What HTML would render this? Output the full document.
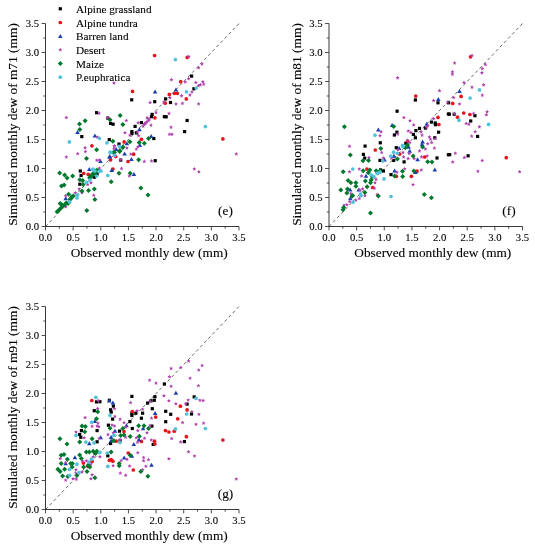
<!DOCTYPE html>
<html><head><meta charset="utf-8"><title>Dew scatter</title>
<style>
html,body{margin:0;padding:0;background:#fff}
svg text{font-family:"Liberation Serif","Times New Roman",serif;fill:#000;stroke:#000;stroke-width:0.1px}
.t{font-size:10.7px}
.l{font-size:13.3px}
.lv{font-size:13.4px}
.lg{font-size:11.2px}
</style></head><body>
<svg width="535" height="550" viewBox="0 0 535 550" style="display:block">
<rect width="535" height="550" fill="#fff"/>
<g><line x1="45.5" y1="226.5" x2="239.0" y2="23.5" stroke="#686868" stroke-width="1" stroke-dasharray="3.1 2.8"/><rect x="78.7" y="169.4" width="3.2" height="3.2" fill="#000000"/><rect x="79.5" y="173.9" width="3.2" height="3.2" fill="#000000"/><rect x="78.2" y="182.6" width="3.2" height="3.2" fill="#000000"/><rect x="92.7" y="175.6" width="3.2" height="3.2" fill="#000000"/><rect x="95.5" y="172.3" width="3.2" height="3.2" fill="#000000"/><rect x="164.6" y="115.2" width="3.2" height="3.2" fill="#000000"/><rect x="185.5" y="118.9" width="3.2" height="3.2" fill="#000000"/><rect x="183.0" y="130.0" width="3.2" height="3.2" fill="#000000"/><rect x="106.2" y="116.5" width="3.2" height="3.2" fill="#000000"/><rect x="109.0" y="121.8" width="3.2" height="3.2" fill="#000000"/><rect x="111.5" y="122.6" width="3.2" height="3.2" fill="#000000"/><rect x="133.5" y="124.8" width="3.2" height="3.2" fill="#000000"/><rect x="130.3" y="130.0" width="3.2" height="3.2" fill="#000000"/><rect x="130.3" y="131.9" width="3.2" height="3.2" fill="#000000"/><rect x="134.8" y="131.3" width="3.2" height="3.2" fill="#000000"/><rect x="139.8" y="121.0" width="3.2" height="3.2" fill="#000000"/><rect x="107.7" y="138.0" width="3.2" height="3.2" fill="#000000"/><rect x="117.4" y="142.5" width="3.2" height="3.2" fill="#000000"/><rect x="152.2" y="136.9" width="3.2" height="3.2" fill="#000000"/><rect x="150.5" y="112.8" width="3.2" height="3.2" fill="#000000"/><rect x="149.9" y="115.1" width="3.2" height="3.2" fill="#000000"/><rect x="119.1" y="158.5" width="3.2" height="3.2" fill="#000000"/><rect x="153.6" y="159.1" width="3.2" height="3.2" fill="#000000"/><rect x="162.8" y="115.1" width="3.2" height="3.2" fill="#000000"/><rect x="95.0" y="111.1" width="3.2" height="3.2" fill="#000000"/><rect x="80.2" y="135.0" width="3.2" height="3.2" fill="#000000"/><rect x="130.1" y="98.2" width="3.2" height="3.2" fill="#000000"/><rect x="153.1" y="100.1" width="3.2" height="3.2" fill="#000000"/><rect x="190.0" y="74.5" width="3.2" height="3.2" fill="#000000"/><rect x="192.3" y="87.2" width="3.2" height="3.2" fill="#000000"/><rect x="164.0" y="97.3" width="3.2" height="3.2" fill="#000000"/><rect x="168.9" y="100.9" width="3.2" height="3.2" fill="#000000"/><rect x="93.0" y="171.7" width="3.2" height="3.2" fill="#000000"/><circle cx="83.7" cy="173.3" r="1.85" fill="#e8141c"/><circle cx="88.2" cy="174.4" r="1.85" fill="#e8141c"/><circle cx="112.9" cy="169.1" r="1.85" fill="#e8141c"/><circle cx="222.9" cy="138.9" r="1.85" fill="#e8141c"/><circle cx="154.9" cy="117.8" r="1.85" fill="#e8141c"/><circle cx="141.4" cy="139.4" r="1.85" fill="#e8141c"/><circle cx="124.1" cy="141.9" r="1.85" fill="#e8141c"/><circle cx="133.6" cy="154.2" r="1.85" fill="#e8141c"/><circle cx="128.0" cy="161.5" r="1.85" fill="#e8141c"/><circle cx="110.6" cy="159.8" r="1.85" fill="#e8141c"/><circle cx="115.7" cy="156.5" r="1.85" fill="#e8141c"/><circle cx="91.9" cy="145.8" r="1.85" fill="#e8141c"/><circle cx="154.6" cy="55.5" r="1.85" fill="#e8141c"/><circle cx="132.5" cy="91.4" r="1.85" fill="#e8141c"/><circle cx="187.2" cy="57.4" r="1.85" fill="#e8141c"/><circle cx="180.7" cy="81.7" r="1.85" fill="#e8141c"/><circle cx="174.5" cy="93.3" r="1.85" fill="#e8141c"/><circle cx="177.3" cy="93.3" r="1.85" fill="#e8141c"/><circle cx="169.3" cy="94.4" r="1.85" fill="#e8141c"/><circle cx="186.3" cy="98.9" r="1.85" fill="#e8141c"/><circle cx="165.2" cy="103.2" r="1.85" fill="#e8141c"/><path d="M89.3 167.1L91.6 171.1L87.0 171.1Z" fill="#1a3fb0"/><path d="M65.7 196.2L68.0 200.2L63.4 200.2Z" fill="#1a3fb0"/><path d="M111.7 168.0L114.0 172.0L109.4 172.0Z" fill="#1a3fb0"/><path d="M133.9 172.1L136.2 176.1L131.6 176.1Z" fill="#1a3fb0"/><path d="M139.5 127.3L141.8 131.3L137.2 131.3Z" fill="#1a3fb0"/><path d="M151.2 134.0L153.5 138.0L148.9 138.0Z" fill="#1a3fb0"/><path d="M126.9 141.3L129.2 145.3L124.6 145.3Z" fill="#1a3fb0"/><path d="M139.8 143.0L142.1 147.0L137.5 147.0Z" fill="#1a3fb0"/><path d="M124.6 151.4L126.9 155.4L122.3 155.4Z" fill="#1a3fb0"/><path d="M131.4 157.0L133.7 161.0L129.1 161.0Z" fill="#1a3fb0"/><path d="M109.5 154.7L111.8 158.7L107.2 158.7Z" fill="#1a3fb0"/><path d="M116.2 146.9L118.5 150.9L113.9 150.9Z" fill="#1a3fb0"/><path d="M77.5 130.1L79.8 134.1L75.2 134.1Z" fill="#1a3fb0"/><path d="M94.9 133.4L97.2 137.4L92.6 137.4Z" fill="#1a3fb0"/><path d="M100.5 158.9L102.8 162.9L98.2 162.9Z" fill="#1a3fb0"/><path d="M155.1 89.5L157.4 93.5L152.8 93.5Z" fill="#1a3fb0"/><path d="M175.9 87.6L178.2 91.6L173.6 91.6Z" fill="#1a3fb0"/><path d="M109.8 154.1L112.1 158.1L107.5 158.1Z" fill="#1a3fb0"/><path d="M99.4 166.0L100.0 167.4L101.4 167.5L100.3 168.5L100.7 169.9L99.4 169.1L98.1 169.9L98.5 168.5L97.4 167.5L98.8 167.4Z" fill="#b040b0"/><path d="M87.6 182.3L88.2 183.7L89.6 183.8L88.5 184.8L88.9 186.2L87.6 185.4L86.3 186.2L86.7 184.8L85.6 183.8L87.0 183.7Z" fill="#b040b0"/><path d="M91.0 180.7L91.6 182.0L93.0 182.1L91.9 183.1L92.3 184.5L91.0 183.8L89.7 184.5L90.1 183.1L89.0 182.1L90.4 182.0Z" fill="#b040b0"/><path d="M79.2 186.8L79.8 188.2L81.2 188.3L80.1 189.3L80.5 190.7L79.2 189.9L77.9 190.7L78.3 189.3L77.2 188.3L78.6 188.2Z" fill="#b040b0"/><path d="M75.3 190.8L75.9 192.1L77.3 192.2L76.2 193.2L76.6 194.6L75.3 193.8L74.0 194.6L74.4 193.2L73.3 192.2L74.7 192.1Z" fill="#b040b0"/><path d="M82.0 190.8L82.6 192.1L84.0 192.2L82.9 193.2L83.3 194.6L82.0 193.8L80.7 194.6L81.1 193.2L80.0 192.2L81.4 192.1Z" fill="#b040b0"/><path d="M93.8 193.2L94.4 194.6L95.8 194.7L94.7 195.7L95.1 197.1L93.8 196.3L92.5 197.1L92.9 195.7L91.8 194.7L93.2 194.6Z" fill="#b040b0"/><path d="M65.7 193.5L66.3 194.9L67.7 195.0L66.6 196.0L67.0 197.4L65.7 196.6L64.4 197.4L64.8 196.0L63.7 195.0L65.1 194.9Z" fill="#b040b0"/><path d="M65.7 204.8L66.3 206.1L67.7 206.2L66.6 207.2L67.0 208.6L65.7 207.8L64.4 208.6L64.8 207.2L63.7 206.2L65.1 206.1Z" fill="#b040b0"/><path d="M121.5 166.3L122.1 167.7L123.5 167.8L122.4 168.8L122.8 170.2L121.5 169.4L120.2 170.2L120.6 168.8L119.5 167.8L120.9 167.7Z" fill="#b040b0"/><path d="M129.4 173.9L130.0 175.3L131.4 175.4L130.3 176.4L130.7 177.8L129.4 177.0L128.1 177.8L128.5 176.4L127.4 175.4L128.8 175.3Z" fill="#b040b0"/><path d="M169.0 111.3L169.6 112.7L171.0 112.8L169.9 113.8L170.3 115.2L169.0 114.5L167.7 115.2L168.1 113.8L167.0 112.8L168.4 112.7Z" fill="#b040b0"/><path d="M171.0 125.0L171.6 126.4L173.0 126.5L171.9 127.5L172.3 128.9L171.0 128.2L169.7 128.9L170.1 127.5L169.0 126.5L170.4 126.4Z" fill="#b040b0"/><path d="M169.5 132.2L170.1 133.6L171.5 133.7L170.4 134.7L170.8 136.1L169.5 135.3L168.2 136.1L168.6 134.7L167.5 133.7L168.9 133.6Z" fill="#b040b0"/><path d="M172.0 132.2L172.6 133.6L174.0 133.7L172.9 134.7L173.3 136.1L172.0 135.3L170.7 136.1L171.1 134.7L170.0 133.7L171.4 133.6Z" fill="#b040b0"/><path d="M236.3 151.8L236.9 153.2L238.3 153.3L237.2 154.3L237.6 155.7L236.3 154.9L235.0 155.7L235.4 154.3L234.3 153.3L235.7 153.2Z" fill="#b040b0"/><path d="M194.3 166.8L194.9 168.2L196.3 168.3L195.2 169.3L195.6 170.7L194.3 169.9L193.0 170.7L193.4 169.3L192.3 168.3L193.7 168.2Z" fill="#b040b0"/><path d="M198.9 169.7L199.5 171.0L200.9 171.1L199.8 172.1L200.2 173.5L198.9 172.8L197.6 173.5L198.0 172.1L196.9 171.1L198.3 171.0Z" fill="#b040b0"/><path d="M126.3 118.4L126.9 119.8L128.3 119.9L127.2 120.9L127.6 122.3L126.3 121.5L125.0 122.3L125.4 120.9L124.3 119.9L125.7 119.8Z" fill="#b040b0"/><path d="M125.0 130.8L125.6 132.1L127.0 132.2L125.9 133.2L126.3 134.6L125.0 133.8L123.7 134.6L124.1 133.2L123.0 132.2L124.4 132.1Z" fill="#b040b0"/><path d="M138.1 120.6L138.7 122.0L140.1 122.1L139.0 123.1L139.4 124.5L138.1 123.8L136.8 124.5L137.2 123.1L136.1 122.1L137.5 122.0Z" fill="#b040b0"/><path d="M147.1 115.6L147.7 117.0L149.1 117.1L148.0 118.1L148.4 119.5L147.1 118.8L145.8 119.5L146.2 118.1L145.1 117.1L146.5 117.0Z" fill="#b040b0"/><path d="M156.0 110.3L156.6 111.7L158.0 111.8L156.9 112.8L157.3 114.2L156.0 113.5L154.7 114.2L155.1 112.8L154.0 111.8L155.4 111.7Z" fill="#b040b0"/><path d="M151.0 123.1L151.6 124.5L153.0 124.6L151.9 125.6L152.3 127.0L151.0 126.2L149.7 127.0L150.1 125.6L149.0 124.6L150.4 124.5Z" fill="#b040b0"/><path d="M148.2 118.9L148.8 120.3L150.2 120.4L149.1 121.4L149.5 122.8L148.2 122.0L146.9 122.8L147.3 121.4L146.2 120.4L147.6 120.3Z" fill="#b040b0"/><path d="M145.4 121.2L146.0 122.6L147.4 122.7L146.3 123.7L146.7 125.1L145.4 124.4L144.1 125.1L144.5 123.7L143.4 122.7L144.8 122.6Z" fill="#b040b0"/><path d="M143.1 124.0L143.7 125.4L145.1 125.5L144.0 126.5L144.4 127.9L143.1 127.2L141.8 127.9L142.2 126.5L141.1 125.5L142.5 125.4Z" fill="#b040b0"/><path d="M137.5 130.2L138.1 131.6L139.5 131.7L138.4 132.7L138.8 134.1L137.5 133.3L136.2 134.1L136.6 132.7L135.5 131.7L136.9 131.6Z" fill="#b040b0"/><path d="M138.6 133.5L139.2 134.9L140.6 135.0L139.5 136.0L139.9 137.4L138.6 136.6L137.3 137.4L137.7 136.0L136.6 135.0L138.0 134.9Z" fill="#b040b0"/><path d="M129.9 133.2L130.5 134.6L131.9 134.7L130.8 135.7L131.2 137.1L129.9 136.3L128.6 137.1L129.0 135.7L127.9 134.7L129.3 134.6Z" fill="#b040b0"/><path d="M114.5 143.7L115.1 145.0L116.5 145.1L115.4 146.1L115.8 147.5L114.5 146.8L113.2 147.5L113.6 146.1L112.5 145.1L113.9 145.0Z" fill="#b040b0"/><path d="M126.9 145.9L127.5 147.3L128.9 147.4L127.8 148.4L128.2 149.8L126.9 149.0L125.6 149.8L126.0 148.4L124.9 147.4L126.3 147.3Z" fill="#b040b0"/><path d="M136.4 147.0L137.0 148.4L138.4 148.5L137.3 149.5L137.7 150.9L136.4 150.1L135.1 150.9L135.5 149.5L134.4 148.5L135.8 148.4Z" fill="#b040b0"/><path d="M138.1 144.8L138.7 146.1L140.1 146.2L139.0 147.2L139.4 148.6L138.1 147.8L136.8 148.6L137.2 147.2L136.1 146.2L137.5 146.1Z" fill="#b040b0"/><path d="M130.8 152.0L131.4 153.4L132.8 153.5L131.7 154.5L132.1 155.9L130.8 155.1L129.5 155.9L129.9 154.5L128.8 153.5L130.2 153.4Z" fill="#b040b0"/><path d="M144.3 159.3L144.9 160.7L146.3 160.8L145.2 161.8L145.6 163.2L144.3 162.4L143.0 163.2L143.4 161.8L142.3 160.8L143.7 160.7Z" fill="#b040b0"/><path d="M151.5 158.8L152.1 160.2L153.5 160.3L152.4 161.3L152.8 162.7L151.5 161.9L150.2 162.7L150.6 161.3L149.5 160.3L150.9 160.2Z" fill="#b040b0"/><path d="M114.0 146.4L114.6 147.8L116.0 147.9L114.9 148.9L115.3 150.3L114.0 149.5L112.7 150.3L113.1 148.9L112.0 147.9L113.4 147.8Z" fill="#b040b0"/><path d="M99.1 111.1L99.7 112.5L101.1 112.6L100.0 113.6L100.4 115.0L99.1 114.2L97.8 115.0L98.2 113.6L97.1 112.6L98.5 112.5Z" fill="#b040b0"/><path d="M66.3 115.4L66.9 116.8L68.3 116.9L67.2 117.9L67.6 119.3L66.3 118.5L65.0 119.3L65.4 117.9L64.3 116.9L65.7 116.8Z" fill="#b040b0"/><path d="M97.5 135.0L98.1 136.4L99.5 136.5L98.4 137.5L98.8 138.9L97.5 138.1L96.2 138.9L96.6 137.5L95.5 136.5L96.9 136.4Z" fill="#b040b0"/><path d="M85.1 145.7L85.7 147.0L87.1 147.1L86.0 148.1L86.4 149.5L85.1 148.8L83.8 149.5L84.2 148.1L83.1 147.1L84.5 147.0Z" fill="#b040b0"/><path d="M85.4 149.4L86.0 150.8L87.4 150.9L86.3 151.9L86.7 153.3L85.4 152.5L84.1 153.3L84.5 151.9L83.4 150.9L84.8 150.8Z" fill="#b040b0"/><path d="M77.7 151.5L78.3 152.9L79.7 153.0L78.6 154.0L79.0 155.4L77.7 154.6L76.4 155.4L76.8 154.0L75.7 153.0L77.1 152.9Z" fill="#b040b0"/><path d="M66.3 154.8L66.9 156.2L68.3 156.3L67.2 157.3L67.6 158.7L66.3 157.9L65.0 158.7L65.4 157.3L64.3 156.3L65.7 156.2Z" fill="#b040b0"/><path d="M96.8 158.2L97.4 159.6L98.8 159.7L97.7 160.7L98.1 162.1L96.8 161.3L95.5 162.1L95.9 160.7L94.8 159.7L96.2 159.6Z" fill="#b040b0"/><path d="M99.4 157.9L100.0 159.3L101.4 159.4L100.3 160.4L100.7 161.8L99.4 161.0L98.1 161.8L98.5 160.4L97.4 159.4L98.8 159.3Z" fill="#b040b0"/><path d="M114.0 80.8L114.6 82.2L116.0 82.3L114.9 83.3L115.3 84.7L114.0 84.0L112.7 84.7L113.1 83.3L112.0 82.3L113.4 82.2Z" fill="#b040b0"/><path d="M150.1 100.4L150.7 101.8L152.1 101.9L151.0 102.9L151.4 104.3L150.1 103.5L148.8 104.3L149.2 102.9L148.1 101.9L149.5 101.8Z" fill="#b040b0"/><path d="M188.8 54.5L189.4 55.8L190.8 55.9L189.7 56.9L190.1 58.3L188.8 57.6L187.5 58.3L187.9 56.9L186.8 55.9L188.2 55.8Z" fill="#b040b0"/><path d="M202.0 61.9L202.6 63.3L204.0 63.4L202.9 64.4L203.3 65.8L202.0 65.0L200.7 65.8L201.1 64.4L200.0 63.4L201.4 63.3Z" fill="#b040b0"/><path d="M198.6 65.6L199.2 67.0L200.6 67.1L199.5 68.1L199.9 69.5L198.6 68.8L197.3 69.5L197.7 68.1L196.6 67.1L198.0 67.0Z" fill="#b040b0"/><path d="M188.6 76.5L189.2 77.9L190.6 78.0L189.5 79.0L189.9 80.4L188.6 79.7L187.3 80.4L187.7 79.0L186.6 78.0L188.0 77.9Z" fill="#b040b0"/><path d="M185.2 79.9L185.8 81.3L187.2 81.4L186.1 82.4L186.5 83.8L185.2 83.0L183.9 83.8L184.3 82.4L183.2 81.4L184.6 81.3Z" fill="#b040b0"/><path d="M171.4 77.6L172.0 79.0L173.4 79.1L172.3 80.1L172.7 81.5L171.4 80.8L170.1 81.5L170.5 80.1L169.4 79.1L170.8 79.0Z" fill="#b040b0"/><path d="M195.8 80.4L196.4 81.8L197.8 81.9L196.7 82.9L197.1 84.3L195.8 83.5L194.5 84.3L194.9 82.9L193.8 81.9L195.2 81.8Z" fill="#b040b0"/><path d="M202.9 79.5L203.5 80.9L204.9 81.0L203.8 82.0L204.2 83.4L202.9 82.7L201.6 83.4L202.0 82.0L200.9 81.0L202.3 80.9Z" fill="#b040b0"/><path d="M203.7 82.1L204.3 83.5L205.7 83.6L204.6 84.6L205.0 86.0L203.7 85.2L202.4 86.0L202.8 84.6L201.7 83.6L203.1 83.5Z" fill="#b040b0"/><path d="M200.3 82.8L200.9 84.1L202.3 84.2L201.2 85.2L201.6 86.6L200.3 85.9L199.0 86.6L199.4 85.2L198.3 84.2L199.7 84.1Z" fill="#b040b0"/><path d="M198.4 83.6L199.0 85.0L200.4 85.1L199.3 86.1L199.7 87.5L198.4 86.8L197.1 87.5L197.5 86.1L196.4 85.1L197.8 85.0Z" fill="#b040b0"/><path d="M191.9 89.9L192.5 91.3L193.9 91.4L192.8 92.4L193.2 93.8L191.9 93.0L190.6 93.8L191.0 92.4L189.9 91.4L191.3 91.3Z" fill="#b040b0"/><path d="M189.9 92.8L190.5 94.2L191.9 94.3L190.8 95.3L191.2 96.7L189.9 96.0L188.6 96.7L189.0 95.3L187.9 94.3L189.3 94.2Z" fill="#b040b0"/><path d="M181.5 93.8L182.1 95.1L183.5 95.2L182.4 96.2L182.8 97.6L181.5 96.9L180.2 97.6L180.6 96.2L179.5 95.2L180.9 95.1Z" fill="#b040b0"/><path d="M170.0 95.6L170.6 97.0L172.0 97.1L170.9 98.1L171.3 99.5L170.0 98.8L168.7 99.5L169.1 98.1L168.0 97.1L169.4 97.0Z" fill="#b040b0"/><path d="M163.7 100.0L164.3 101.4L165.7 101.5L164.6 102.5L165.0 103.9L163.7 103.2L162.4 103.9L162.8 102.5L161.7 101.5L163.1 101.4Z" fill="#b040b0"/><path d="M176.0 101.8L176.6 103.2L178.0 103.3L176.9 104.3L177.3 105.7L176.0 105.0L174.7 105.7L175.1 104.3L174.0 103.3L175.4 103.2Z" fill="#b040b0"/><path d="M182.4 101.2L183.0 102.6L184.4 102.7L183.3 103.7L183.7 105.1L182.4 104.4L181.1 105.1L181.5 103.7L180.4 102.7L181.8 102.6Z" fill="#b040b0"/><path d="M198.6 101.8L199.2 103.2L200.6 103.3L199.5 104.3L199.9 105.7L198.6 105.0L197.3 105.7L197.7 104.3L196.6 103.3L198.0 103.2Z" fill="#b040b0"/><path d="M114.3 144.2L114.9 145.6L116.3 145.7L115.2 146.7L115.6 148.1L114.3 147.3L113.0 148.1L113.4 146.7L112.3 145.7L113.7 145.6Z" fill="#b040b0"/><path d="M120.4 157.7L121.0 159.0L122.4 159.1L121.3 160.1L121.7 161.5L120.4 160.8L119.1 161.5L119.5 160.1L118.4 159.1L119.8 159.0Z" fill="#b040b0"/><path d="M107.5 115.6L108.1 117.0L109.5 117.1L108.4 118.1L108.8 119.5L107.5 118.8L106.2 119.5L106.6 118.1L105.5 117.1L106.9 117.0Z" fill="#b040b0"/><path d="M144.3 122.6L144.9 124.0L146.3 124.1L145.2 125.1L145.6 126.5L144.3 125.8L143.0 126.5L143.4 125.1L142.3 124.1L143.7 124.0Z" fill="#b040b0"/><path d="M146.5 120.1L147.1 121.5L148.5 121.6L147.4 122.6L147.8 124.0L146.5 123.2L145.2 124.0L145.6 122.6L144.5 121.6L145.9 121.5Z" fill="#b040b0"/><path d="M149.3 117.3L149.9 118.7L151.3 118.8L150.2 119.8L150.6 121.2L149.3 120.5L148.0 121.2L148.4 119.8L147.3 118.8L148.7 118.7Z" fill="#b040b0"/><path d="M59.6 170.5L62.1 173.0L59.6 175.5L57.1 173.0Z" fill="#00782d"/><path d="M64.6 172.5L67.1 175.0L64.6 177.5L62.1 175.0Z" fill="#00782d"/><path d="M67.1 175.6L69.6 178.1L67.1 180.6L64.6 178.1Z" fill="#00782d"/><path d="M72.6 173.6L75.1 176.1L72.6 178.6L70.1 176.1Z" fill="#00782d"/><path d="M79.8 177.2L82.3 179.7L79.8 182.2L77.3 179.7Z" fill="#00782d"/><path d="M82.6 178.1L85.1 180.6L82.6 183.1L80.1 180.6Z" fill="#00782d"/><path d="M61.5 183.5L64.0 186.0L61.5 188.5L59.0 186.0Z" fill="#00782d"/><path d="M64.1 182.6L66.6 185.1L64.1 187.6L61.6 185.1Z" fill="#00782d"/><path d="M83.1 182.0L85.6 184.5L83.1 187.0L80.6 184.5Z" fill="#00782d"/><path d="M82.0 188.4L84.5 190.9L82.0 193.4L79.5 190.9Z" fill="#00782d"/><path d="M88.5 187.9L91.0 190.4L88.5 192.9L86.0 190.4Z" fill="#00782d"/><path d="M94.3 186.5L96.8 189.0L94.3 191.5L91.8 189.0Z" fill="#00782d"/><path d="M94.9 197.1L97.4 199.6L94.9 202.1L92.4 199.6Z" fill="#00782d"/><path d="M86.8 208.0L89.3 210.5L86.8 213.0L84.3 210.5Z" fill="#00782d"/><path d="M57.1 209.3L59.6 211.8L57.1 214.3L54.6 211.8Z" fill="#00782d"/><path d="M59.0 207.5L61.5 210.0L59.0 212.5L56.5 210.0Z" fill="#00782d"/><path d="M60.7 205.8L63.2 208.3L60.7 210.8L58.2 208.3Z" fill="#00782d"/><path d="M62.4 204.1L64.9 206.6L62.4 209.1L59.9 206.6Z" fill="#00782d"/><path d="M60.1 201.1L62.6 203.6L60.1 206.1L57.6 203.6Z" fill="#00782d"/><path d="M61.8 202.2L64.3 204.7L61.8 207.2L59.3 204.7Z" fill="#00782d"/><path d="M68.0 201.1L70.5 203.6L68.0 206.1L65.5 203.6Z" fill="#00782d"/><path d="M69.9 197.1L72.4 199.6L69.9 202.1L67.4 199.6Z" fill="#00782d"/><path d="M71.9 194.3L74.4 196.8L71.9 199.3L69.4 196.8Z" fill="#00782d"/><path d="M68.6 191.8L71.1 194.3L68.6 196.8L66.1 194.3Z" fill="#00782d"/><path d="M97.7 168.0L100.2 170.5L97.7 173.0L95.2 170.5Z" fill="#00782d"/><path d="M92.1 173.0L94.6 175.5L92.1 178.0L89.6 175.5Z" fill="#00782d"/><path d="M119.0 170.8L121.5 173.3L119.0 175.8L116.5 173.3Z" fill="#00782d"/><path d="M111.2 179.2L113.7 181.7L111.2 184.2L108.7 181.7Z" fill="#00782d"/><path d="M130.2 170.8L132.7 173.3L130.2 175.8L127.7 173.3Z" fill="#00782d"/><path d="M140.9 185.4L143.4 187.9L140.9 190.4L138.4 187.9Z" fill="#00782d"/><path d="M148.0 192.4L150.5 194.9L148.0 197.4L145.5 194.9Z" fill="#00782d"/><path d="M120.1 113.0L122.6 115.5L120.1 118.0L117.6 115.5Z" fill="#00782d"/><path d="M110.0 117.2L112.5 119.7L110.0 122.2L107.5 119.7Z" fill="#00782d"/><path d="M122.9 122.0L125.4 124.5L122.9 127.0L120.4 124.5Z" fill="#00782d"/><path d="M112.9 138.8L115.4 141.3L112.9 143.8L110.4 141.3Z" fill="#00782d"/><path d="M129.9 139.2L132.4 141.7L129.9 144.2L127.4 141.7Z" fill="#00782d"/><path d="M122.9 144.4L125.4 146.9L122.9 149.4L120.4 146.9Z" fill="#00782d"/><path d="M119.6 148.9L122.1 151.4L119.6 153.9L117.1 151.4Z" fill="#00782d"/><path d="M113.4 150.0L115.9 152.5L113.4 155.0L110.9 152.5Z" fill="#00782d"/><path d="M139.2 139.9L141.7 142.4L139.2 144.9L136.7 142.4Z" fill="#00782d"/><path d="M144.3 140.8L146.8 143.3L144.3 145.8L141.8 143.3Z" fill="#00782d"/><path d="M148.5 136.0L151.0 138.5L148.5 141.0L146.0 138.5Z" fill="#00782d"/><path d="M138.6 157.3L141.1 159.8L138.6 162.3L136.1 159.8Z" fill="#00782d"/><path d="M85.1 118.3L87.6 120.8L85.1 123.3L82.6 120.8Z" fill="#00782d"/><path d="M79.5 121.4L82.0 123.9L79.5 126.4L77.0 123.9Z" fill="#00782d"/><path d="M79.8 127.1L82.3 129.6L79.8 132.1L77.3 129.6Z" fill="#00782d"/><path d="M96.6 147.2L99.1 149.7L96.6 152.2L94.1 149.7Z" fill="#00782d"/><path d="M86.5 156.0L89.0 158.5L86.5 161.0L84.0 158.5Z" fill="#00782d"/><path d="M119.9 148.3L122.4 150.8L119.9 153.3L117.4 150.8Z" fill="#00782d"/><path d="M122.7 145.0L125.2 147.5L122.7 150.0L120.2 147.5Z" fill="#00782d"/><path d="M114.3 150.0L116.8 152.5L114.3 155.0L111.8 152.5Z" fill="#00782d"/><path d="M92.9 171.3L95.4 173.8L92.9 176.3L90.4 173.8Z" fill="#00782d"/><path d="M96.3 168.0L98.8 170.5L96.3 173.0L93.8 170.5Z" fill="#00782d"/><path d="M90.7 173.6L93.2 176.1L90.7 178.6L88.2 176.1Z" fill="#00782d"/><path d="M64.3 202.4L66.8 204.9L64.3 207.4L61.8 204.9Z" fill="#00782d"/><path d="M66.1 200.5L68.6 203.0L66.1 205.5L63.6 203.0Z" fill="#00782d"/><path d="M71.0 196.0L73.5 198.5L71.0 201.0L68.5 198.5Z" fill="#00782d"/><path d="M73.3 193.6L75.8 196.1L73.3 198.6L70.8 196.1Z" fill="#00782d"/><path d="M89.6 175.3L92.1 177.8L89.6 180.3L87.1 177.8Z" fill="#00782d"/><path d="M94.9 170.5L97.4 173.0L94.9 175.5L92.4 173.0Z" fill="#00782d"/><circle cx="93.2" cy="169.4" r="1.85" fill="#4fc3dc"/><circle cx="94.9" cy="171.0" r="1.85" fill="#4fc3dc"/><circle cx="101.1" cy="171.0" r="1.85" fill="#4fc3dc"/><circle cx="96.6" cy="176.1" r="1.85" fill="#4fc3dc"/><circle cx="89.9" cy="180.0" r="1.85" fill="#4fc3dc"/><circle cx="86.5" cy="182.3" r="1.85" fill="#4fc3dc"/><circle cx="77.5" cy="194.9" r="1.85" fill="#4fc3dc"/><circle cx="77.0" cy="198.0" r="1.85" fill="#4fc3dc"/><circle cx="69.7" cy="201.9" r="1.85" fill="#4fc3dc"/><circle cx="107.8" cy="175.5" r="1.85" fill="#4fc3dc"/><circle cx="205.4" cy="126.6" r="1.85" fill="#4fc3dc"/><circle cx="107.0" cy="142.8" r="1.85" fill="#4fc3dc"/><circle cx="119.6" cy="146.4" r="1.85" fill="#4fc3dc"/><circle cx="110.0" cy="152.2" r="1.85" fill="#4fc3dc"/><circle cx="114.5" cy="155.3" r="1.85" fill="#4fc3dc"/><circle cx="99.4" cy="138.3" r="1.85" fill="#4fc3dc"/><circle cx="69.4" cy="141.9" r="1.85" fill="#4fc3dc"/><circle cx="175.4" cy="59.6" r="1.85" fill="#4fc3dc"/><circle cx="196.2" cy="88.0" r="1.85" fill="#4fc3dc"/><circle cx="186.5" cy="91.8" r="1.85" fill="#4fc3dc"/><circle cx="110.9" cy="152.5" r="1.85" fill="#4fc3dc"/><circle cx="92.9" cy="169.3" r="1.85" fill="#4fc3dc"/><circle cx="99.1" cy="171.6" r="1.85" fill="#4fc3dc"/><path d="M45.5 23.5V226.5H239.0" fill="none" stroke="#222" stroke-width="0.9"/><path d="M45.50 226.5v3.9M45.5 226.50h-3.9M59.32 226.5v2.2M45.5 212.00h-2.2M73.14 226.5v3.9M45.5 197.50h-3.9M86.96 226.5v2.2M45.5 183.00h-2.2M100.79 226.5v3.9M45.5 168.50h-3.9M114.61 226.5v2.2M45.5 154.00h-2.2M128.43 226.5v3.9M45.5 139.50h-3.9M142.25 226.5v2.2M45.5 125.00h-2.2M156.07 226.5v3.9M45.5 110.50h-3.9M169.89 226.5v2.2M45.5 96.00h-2.2M183.71 226.5v3.9M45.5 81.50h-3.9M197.54 226.5v2.2M45.5 67.00h-2.2M211.36 226.5v3.9M45.5 52.50h-3.9M225.18 226.5v2.2M45.5 38.00h-2.2M239.00 226.5v3.9M45.5 23.50h-3.9" stroke="#222" stroke-width="0.8" fill="none"/><text x="45.5" y="241.1" text-anchor="middle" class="t">0.0</text><text x="39.0" y="230.1" text-anchor="end" class="t">0.0</text><text x="73.1" y="241.1" text-anchor="middle" class="t">0.5</text><text x="39.0" y="201.1" text-anchor="end" class="t">0.5</text><text x="100.8" y="241.1" text-anchor="middle" class="t">1.0</text><text x="39.0" y="172.1" text-anchor="end" class="t">1.0</text><text x="128.4" y="241.1" text-anchor="middle" class="t">1.5</text><text x="39.0" y="143.1" text-anchor="end" class="t">1.5</text><text x="156.1" y="241.1" text-anchor="middle" class="t">2.0</text><text x="39.0" y="114.1" text-anchor="end" class="t">2.0</text><text x="183.7" y="241.1" text-anchor="middle" class="t">2.5</text><text x="39.0" y="85.1" text-anchor="end" class="t">2.5</text><text x="211.4" y="241.1" text-anchor="middle" class="t">3.0</text><text x="39.0" y="56.1" text-anchor="end" class="t">3.0</text><text x="239.0" y="241.1" text-anchor="middle" class="t">3.5</text><text x="39.0" y="27.1" text-anchor="end" class="t">3.5</text><text x="149.2" y="257.1" text-anchor="middle" class="l">Observed monthly dew (mm)</text><text transform="translate(17.3 124.5) rotate(-90)" text-anchor="middle" class="l lv">Simulated monthly dew of m71 (mm)</text><text x="225.5" y="215.3" text-anchor="middle" class="l">(e)</text></g>
<g><line x1="329.0" y1="226.5" x2="522.5" y2="23.5" stroke="#686868" stroke-width="1" stroke-dasharray="3.1 2.8"/><rect x="381.8" y="169.4" width="3.2" height="3.2" fill="#000000"/><rect x="379.0" y="168.3" width="3.2" height="3.2" fill="#000000"/><rect x="394.7" y="146.1" width="3.2" height="3.2" fill="#000000"/><rect x="435.4" y="156.4" width="3.2" height="3.2" fill="#000000"/><rect x="402.5" y="160.3" width="3.2" height="3.2" fill="#000000"/><rect x="392.1" y="158.8" width="3.2" height="3.2" fill="#000000"/><rect x="389.4" y="173.0" width="3.2" height="3.2" fill="#000000"/><rect x="446.8" y="153.1" width="3.2" height="3.2" fill="#000000"/><rect x="447.8" y="112.6" width="3.2" height="3.2" fill="#000000"/><rect x="452.6" y="112.6" width="3.2" height="3.2" fill="#000000"/><rect x="473.3" y="114.1" width="3.2" height="3.2" fill="#000000"/><rect x="469.1" y="119.4" width="3.2" height="3.2" fill="#000000"/><rect x="476.0" y="134.8" width="3.2" height="3.2" fill="#000000"/><rect x="448.1" y="153.0" width="3.2" height="3.2" fill="#000000"/><rect x="466.5" y="154.2" width="3.2" height="3.2" fill="#000000"/><rect x="413.8" y="98.4" width="3.2" height="3.2" fill="#000000"/><rect x="436.4" y="101.2" width="3.2" height="3.2" fill="#000000"/><rect x="395.5" y="109.6" width="3.2" height="3.2" fill="#000000"/><rect x="446.8" y="112.4" width="3.2" height="3.2" fill="#000000"/><rect x="429.8" y="120.5" width="3.2" height="3.2" fill="#000000"/><rect x="433.6" y="121.4" width="3.2" height="3.2" fill="#000000"/><rect x="433.9" y="123.1" width="3.2" height="3.2" fill="#000000"/><rect x="417.9" y="126.8" width="3.2" height="3.2" fill="#000000"/><rect x="414.3" y="129.0" width="3.2" height="3.2" fill="#000000"/><rect x="423.8" y="126.5" width="3.2" height="3.2" fill="#000000"/><rect x="395.3" y="130.6" width="3.2" height="3.2" fill="#000000"/><rect x="392.8" y="133.4" width="3.2" height="3.2" fill="#000000"/><rect x="411.8" y="132.8" width="3.2" height="3.2" fill="#000000"/><rect x="413.8" y="136.2" width="3.2" height="3.2" fill="#000000"/><rect x="437.0" y="130.6" width="3.2" height="3.2" fill="#000000"/><rect x="433.2" y="136.2" width="3.2" height="3.2" fill="#000000"/><rect x="404.2" y="141.6" width="3.2" height="3.2" fill="#000000"/><rect x="378.7" y="141.2" width="3.2" height="3.2" fill="#000000"/><rect x="363.5" y="144.5" width="3.2" height="3.2" fill="#000000"/><rect x="361.8" y="152.8" width="3.2" height="3.2" fill="#000000"/><rect x="363.1" y="156.5" width="3.2" height="3.2" fill="#000000"/><rect x="378.4" y="158.8" width="3.2" height="3.2" fill="#000000"/><rect x="447.0" y="101.2" width="3.2" height="3.2" fill="#000000"/><circle cx="366.9" cy="169.1" r="1.85" fill="#e8141c"/><circle cx="372.7" cy="187.5" r="1.85" fill="#e8141c"/><circle cx="399.7" cy="154.1" r="1.85" fill="#e8141c"/><circle cx="424.7" cy="157.0" r="1.85" fill="#e8141c"/><circle cx="417.0" cy="171.2" r="1.85" fill="#e8141c"/><circle cx="411.4" cy="176.3" r="1.85" fill="#e8141c"/><circle cx="396.3" cy="176.3" r="1.85" fill="#e8141c"/><circle cx="463.7" cy="113.0" r="1.85" fill="#e8141c"/><circle cx="469.9" cy="114.5" r="1.85" fill="#e8141c"/><circle cx="457.5" cy="117.2" r="1.85" fill="#e8141c"/><circle cx="506.3" cy="157.7" r="1.85" fill="#e8141c"/><circle cx="415.7" cy="96.1" r="1.85" fill="#e8141c"/><circle cx="438.0" cy="117.4" r="1.85" fill="#e8141c"/><circle cx="438.9" cy="124.5" r="1.85" fill="#e8141c"/><circle cx="407.5" cy="141.2" r="1.85" fill="#e8141c"/><circle cx="375.3" cy="150.0" r="1.85" fill="#e8141c"/><circle cx="470.5" cy="56.8" r="1.85" fill="#e8141c"/><circle cx="461.1" cy="96.4" r="1.85" fill="#e8141c"/><circle cx="452.7" cy="103.4" r="1.85" fill="#e8141c"/><path d="M366.0 173.8L368.3 177.8L363.7 177.8Z" fill="#1a3fb0"/><path d="M358.7 187.5L361.0 191.5L356.4 191.5Z" fill="#1a3fb0"/><path d="M350.1 187.5L352.4 191.5L347.8 191.5Z" fill="#1a3fb0"/><path d="M350.3 196.2L352.6 200.2L348.0 200.2Z" fill="#1a3fb0"/><path d="M409.7 148.7L412.0 152.7L407.4 152.7Z" fill="#1a3fb0"/><path d="M417.6 157.2L419.9 161.2L415.3 161.2Z" fill="#1a3fb0"/><path d="M394.0 153.8L396.3 157.8L391.7 157.8Z" fill="#1a3fb0"/><path d="M394.6 168.6L396.9 172.6L392.3 172.6Z" fill="#1a3fb0"/><path d="M415.4 170.1L417.7 174.1L413.1 174.1Z" fill="#1a3fb0"/><path d="M434.8 167.5L437.1 171.5L432.5 171.5Z" fill="#1a3fb0"/><path d="M399.1 145.9L401.4 149.9L396.8 149.9Z" fill="#1a3fb0"/><path d="M408.6 144.8L410.9 148.8L406.3 148.8Z" fill="#1a3fb0"/><path d="M438.3 96.9L440.6 100.9L436.0 100.9Z" fill="#1a3fb0"/><path d="M426.8 121.8L429.1 125.8L424.5 125.8Z" fill="#1a3fb0"/><path d="M392.1 123.0L394.4 127.0L389.8 127.0Z" fill="#1a3fb0"/><path d="M422.6 139.6L424.9 143.6L420.3 143.6Z" fill="#1a3fb0"/><path d="M422.1 142.0L424.4 146.0L419.8 146.0Z" fill="#1a3fb0"/><path d="M378.3 127.5L380.6 131.5L376.0 131.5Z" fill="#1a3fb0"/><path d="M384.5 157.5L386.8 161.5L382.2 161.5Z" fill="#1a3fb0"/><path d="M459.5 89.1L461.8 93.1L457.2 93.1Z" fill="#1a3fb0"/><path d="M349.5 169.7L350.1 171.0L351.5 171.1L350.4 172.1L350.8 173.5L349.5 172.8L348.2 173.5L348.6 172.1L347.5 171.1L348.9 171.0Z" fill="#b040b0"/><path d="M359.3 166.9L359.9 168.3L361.3 168.4L360.2 169.4L360.6 170.8L359.3 170.0L358.0 170.8L358.4 169.4L357.3 168.4L358.7 168.3Z" fill="#b040b0"/><path d="M361.5 173.9L362.1 175.3L363.5 175.4L362.4 176.4L362.8 177.8L361.5 177.0L360.2 177.8L360.6 176.4L359.5 175.4L360.9 175.3Z" fill="#b040b0"/><path d="M375.0 180.7L375.6 182.0L377.0 182.1L375.9 183.1L376.3 184.5L375.0 183.8L373.7 184.5L374.1 183.1L373.0 182.1L374.4 182.0Z" fill="#b040b0"/><path d="M376.1 177.3L376.7 178.7L378.1 178.8L377.0 179.8L377.4 181.2L376.1 180.4L374.8 181.2L375.2 179.8L374.1 178.8L375.5 178.7Z" fill="#b040b0"/><path d="M374.4 186.2L375.0 187.6L376.4 187.7L375.3 188.7L375.7 190.1L374.4 189.3L373.1 190.1L373.5 188.7L372.4 187.7L373.8 187.6Z" fill="#b040b0"/><path d="M362.6 186.8L363.2 188.2L364.6 188.3L363.5 189.3L363.9 190.7L362.6 189.9L361.3 190.7L361.7 189.3L360.6 188.3L362.0 188.2Z" fill="#b040b0"/><path d="M364.9 193.5L365.5 194.9L366.9 195.0L365.8 196.0L366.2 197.4L364.9 196.6L363.6 197.4L364.0 196.0L362.9 195.0L364.3 194.9Z" fill="#b040b0"/><path d="M377.2 192.4L377.8 193.8L379.2 193.9L378.1 194.9L378.5 196.3L377.2 195.5L375.9 196.3L376.3 194.9L375.2 193.9L376.6 193.8Z" fill="#b040b0"/><path d="M350.9 191.3L351.5 192.7L352.9 192.8L351.8 193.8L352.2 195.2L350.9 194.4L349.6 195.2L350.0 193.8L348.9 192.8L350.3 192.7Z" fill="#b040b0"/><path d="M359.3 196.3L359.9 197.7L361.3 197.8L360.2 198.8L360.6 200.2L359.3 199.4L358.0 200.2L358.4 198.8L357.3 197.8L358.7 197.7Z" fill="#b040b0"/><path d="M355.9 198.0L356.5 199.4L357.9 199.5L356.8 200.5L357.2 201.9L355.9 201.1L354.6 201.9L355.0 200.5L353.9 199.5L355.3 199.4Z" fill="#b040b0"/><path d="M349.7 199.5L350.3 200.9L351.7 201.0L350.6 202.0L351.0 203.4L349.7 202.6L348.4 203.4L348.8 202.0L347.7 201.0L349.1 200.9Z" fill="#b040b0"/><path d="M346.9 202.5L347.5 203.9L348.9 204.0L347.8 205.0L348.2 206.4L346.9 205.6L345.6 206.4L346.0 205.0L344.9 204.0L346.3 203.9Z" fill="#b040b0"/><path d="M344.1 203.2L344.7 204.5L346.1 204.6L345.0 205.6L345.4 207.0L344.1 206.2L342.8 207.0L343.2 205.6L342.1 204.6L343.5 204.5Z" fill="#b040b0"/><path d="M359.8 187.9L360.4 189.3L361.8 189.4L360.7 190.4L361.1 191.8L359.8 191.0L358.5 191.8L358.9 190.4L357.8 189.4L359.2 189.3Z" fill="#b040b0"/><path d="M434.4 146.0L435.0 147.4L436.4 147.5L435.3 148.5L435.7 149.9L434.4 149.1L433.1 149.9L433.5 148.5L432.4 147.5L433.8 147.4Z" fill="#b040b0"/><path d="M425.4 146.9L426.0 148.3L427.4 148.4L426.3 149.4L426.7 150.8L425.4 150.0L424.1 150.8L424.5 149.4L423.4 148.4L424.8 148.3Z" fill="#b040b0"/><path d="M419.5 148.8L420.1 150.2L421.5 150.3L420.4 151.3L420.8 152.7L419.5 151.9L418.2 152.7L418.6 151.3L417.5 150.3L418.9 150.2Z" fill="#b040b0"/><path d="M403.0 150.3L403.6 151.7L405.0 151.8L403.9 152.8L404.3 154.2L403.0 153.4L401.7 154.2L402.1 152.8L401.0 151.8L402.4 151.7Z" fill="#b040b0"/><path d="M409.2 151.4L409.8 152.8L411.2 152.9L410.1 153.9L410.5 155.3L409.2 154.5L407.9 155.3L408.3 153.9L407.2 152.9L408.6 152.8Z" fill="#b040b0"/><path d="M403.6 154.8L404.2 156.2L405.6 156.3L404.5 157.3L404.9 158.7L403.6 157.9L402.3 158.7L402.7 157.3L401.6 156.3L403.0 156.2Z" fill="#b040b0"/><path d="M408.1 156.4L408.7 157.8L410.1 157.9L409.0 158.9L409.4 160.3L408.1 159.5L406.8 160.3L407.2 158.9L406.1 157.9L407.5 157.8Z" fill="#b040b0"/><path d="M421.5 154.8L422.1 156.2L423.5 156.3L422.4 157.3L422.8 158.7L421.5 157.9L420.2 158.7L420.6 157.3L419.5 156.3L420.9 156.2Z" fill="#b040b0"/><path d="M427.1 153.9L427.7 155.3L429.1 155.4L428.0 156.4L428.4 157.8L427.1 157.0L425.8 157.8L426.2 156.4L425.1 155.4L426.5 155.3Z" fill="#b040b0"/><path d="M414.2 156.4L414.8 157.8L416.2 157.9L415.1 158.9L415.5 160.3L414.2 159.5L412.9 160.3L413.3 158.9L412.2 157.9L413.6 157.8Z" fill="#b040b0"/><path d="M391.5 156.2L392.1 157.5L393.5 157.6L392.4 158.6L392.8 160.0L391.5 159.2L390.2 160.0L390.6 158.6L389.5 157.6L390.9 157.5Z" fill="#b040b0"/><path d="M404.7 166.7L405.3 168.0L406.7 168.1L405.6 169.1L406.0 170.5L404.7 169.8L403.4 170.5L403.8 169.1L402.7 168.1L404.1 168.0Z" fill="#b040b0"/><path d="M421.3 167.9L421.9 169.3L423.3 169.4L422.2 170.4L422.6 171.8L421.3 171.0L420.0 171.8L420.4 170.4L419.3 169.4L420.7 169.3Z" fill="#b040b0"/><path d="M396.9 170.2L397.5 171.6L398.9 171.7L397.8 172.7L398.2 174.1L396.9 173.3L395.6 174.1L396.0 172.7L394.9 171.7L396.3 171.6Z" fill="#b040b0"/><path d="M413.1 182.5L413.7 183.9L415.1 184.0L414.0 185.0L414.4 186.4L413.1 185.6L411.8 186.4L412.2 185.0L411.1 184.0L412.5 183.9Z" fill="#b040b0"/><path d="M398.0 147.8L398.6 149.1L400.0 149.2L398.9 150.2L399.3 151.6L398.0 150.8L396.7 151.6L397.1 150.2L396.0 149.2L397.4 149.1Z" fill="#b040b0"/><path d="M454.7 111.6L455.3 113.0L456.7 113.1L455.6 114.1L456.0 115.5L454.7 114.8L453.4 115.5L453.8 114.1L452.7 113.1L454.1 113.0Z" fill="#b040b0"/><path d="M473.7 111.3L474.3 112.7L475.7 112.8L474.6 113.8L475.0 115.2L473.7 114.5L472.4 115.2L472.8 113.8L471.7 112.8L473.1 112.7Z" fill="#b040b0"/><path d="M487.1 109.5L487.7 110.9L489.1 111.0L488.0 112.0L488.4 113.4L487.1 112.7L485.8 113.4L486.2 112.0L485.1 111.0L486.5 110.9Z" fill="#b040b0"/><path d="M486.4 112.5L487.0 113.9L488.4 114.0L487.3 115.0L487.7 116.4L486.4 115.7L485.1 116.4L485.5 115.0L484.4 114.0L485.8 113.9Z" fill="#b040b0"/><path d="M466.2 121.4L466.8 122.8L468.2 122.9L467.1 123.9L467.5 125.3L466.2 124.5L464.9 125.3L465.3 123.9L464.2 122.9L465.6 122.8Z" fill="#b040b0"/><path d="M468.9 122.0L469.5 123.4L470.9 123.5L469.8 124.5L470.2 125.9L468.9 125.2L467.6 125.9L468.0 124.5L466.9 123.5L468.3 123.4Z" fill="#b040b0"/><path d="M479.4 124.8L480.0 126.1L481.4 126.2L480.3 127.2L480.7 128.6L479.4 127.9L478.1 128.6L478.5 127.2L477.4 126.2L478.8 126.1Z" fill="#b040b0"/><path d="M475.2 129.5L475.8 130.9L477.2 131.0L476.1 132.0L476.5 133.4L475.2 132.6L473.9 133.4L474.3 132.0L473.2 131.0L474.6 130.9Z" fill="#b040b0"/><path d="M471.7 134.0L472.3 135.4L473.7 135.5L472.6 136.5L473.0 137.9L471.7 137.1L470.4 137.9L470.8 136.5L469.7 135.5L471.1 135.4Z" fill="#b040b0"/><path d="M455.3 151.2L455.9 152.6L457.3 152.7L456.2 153.7L456.6 155.1L455.3 154.3L454.0 155.1L454.4 153.7L453.3 152.7L454.7 152.6Z" fill="#b040b0"/><path d="M464.4 155.4L465.0 156.8L466.4 156.9L465.3 157.9L465.7 159.3L464.4 158.5L463.1 159.3L463.5 157.9L462.4 156.9L463.8 156.8Z" fill="#b040b0"/><path d="M452.7 159.9L453.3 161.3L454.7 161.4L453.6 162.4L454.0 163.8L452.7 163.0L451.4 163.8L451.8 162.4L450.7 161.4L452.1 161.3Z" fill="#b040b0"/><path d="M482.2 158.4L482.8 159.8L484.2 159.9L483.1 160.9L483.5 162.3L482.2 161.5L480.9 162.3L481.3 160.9L480.2 159.9L481.6 159.8Z" fill="#b040b0"/><path d="M477.9 169.2L478.5 170.5L479.9 170.6L478.8 171.6L479.2 173.0L477.9 172.2L476.6 173.0L477.0 171.6L475.9 170.6L477.3 170.5Z" fill="#b040b0"/><path d="M519.6 169.7L520.2 171.0L521.6 171.1L520.5 172.1L520.9 173.5L519.6 172.8L518.3 173.5L518.7 172.1L517.6 171.1L519.0 171.0Z" fill="#b040b0"/><path d="M439.5 88.5L440.1 89.9L441.5 90.0L440.4 91.0L440.8 92.4L439.5 91.7L438.2 92.4L438.6 91.0L437.5 90.0L438.9 89.9Z" fill="#b040b0"/><path d="M433.6 98.4L434.2 99.8L435.6 99.9L434.5 100.9L434.9 102.3L433.6 101.5L432.3 102.3L432.7 100.9L431.6 99.9L433.0 99.8Z" fill="#b040b0"/><path d="M447.5 100.1L448.1 101.5L449.5 101.6L448.4 102.6L448.8 104.0L447.5 103.2L446.2 104.0L446.6 102.6L445.5 101.6L446.9 101.5Z" fill="#b040b0"/><path d="M433.6 116.5L434.2 117.9L435.6 118.0L434.5 119.0L434.9 120.4L433.6 119.7L432.3 120.4L432.7 119.0L431.6 118.0L433.0 117.9Z" fill="#b040b0"/><path d="M403.9 115.4L404.5 116.8L405.9 116.9L404.8 117.9L405.2 119.3L403.9 118.5L402.6 119.3L403.0 117.9L401.9 116.9L403.3 116.8Z" fill="#b040b0"/><path d="M410.0 118.6L410.6 120.0L412.0 120.1L410.9 121.1L411.3 122.5L410.0 121.8L408.7 122.5L409.1 121.1L408.0 120.1L409.4 120.0Z" fill="#b040b0"/><path d="M427.7 123.6L428.3 125.0L429.7 125.1L428.6 126.1L429.0 127.5L427.7 126.8L426.4 127.5L426.8 126.1L425.7 125.1L427.1 125.0Z" fill="#b040b0"/><path d="M413.7 122.8L414.3 124.2L415.7 124.3L414.6 125.3L415.0 126.7L413.7 126.0L412.4 126.7L412.8 125.3L411.7 124.3L413.1 124.2Z" fill="#b040b0"/><path d="M426.6 125.3L427.2 126.7L428.6 126.8L427.5 127.8L427.9 129.2L426.6 128.4L425.3 129.2L425.7 127.8L424.6 126.8L426.0 126.7Z" fill="#b040b0"/><path d="M408.3 128.9L408.9 130.3L410.3 130.4L409.2 131.4L409.6 132.8L408.3 132.0L407.0 132.8L407.4 131.4L406.3 130.4L407.7 130.3Z" fill="#b040b0"/><path d="M410.9 130.3L411.5 131.7L412.9 131.8L411.8 132.8L412.2 134.2L410.9 133.4L409.6 134.2L410.0 132.8L408.9 131.8L410.3 131.7Z" fill="#b040b0"/><path d="M421.2 129.8L421.8 131.2L423.2 131.3L422.1 132.3L422.5 133.7L421.2 132.9L419.9 133.7L420.3 132.3L419.2 131.3L420.6 131.2Z" fill="#b040b0"/><path d="M397.7 132.0L398.3 133.4L399.7 133.5L398.6 134.5L399.0 135.9L397.7 135.1L396.4 135.9L396.8 134.5L395.7 133.5L397.1 133.4Z" fill="#b040b0"/><path d="M422.1 133.2L422.7 134.5L424.1 134.6L423.0 135.6L423.4 137.0L422.1 136.2L420.8 137.0L421.2 135.6L420.1 134.6L421.5 134.5Z" fill="#b040b0"/><path d="M429.4 134.8L430.0 136.2L431.4 136.3L430.3 137.3L430.7 138.7L429.4 137.9L428.1 138.7L428.5 137.3L427.4 136.3L428.8 136.2Z" fill="#b040b0"/><path d="M430.5 137.2L431.1 138.5L432.5 138.6L431.4 139.6L431.8 141.0L430.5 140.2L429.2 141.0L429.6 139.6L428.5 138.6L429.9 138.5Z" fill="#b040b0"/><path d="M435.2 136.5L435.8 137.9L437.2 138.0L436.1 139.0L436.5 140.4L435.2 139.6L433.9 140.4L434.3 139.0L433.2 138.0L434.6 137.9Z" fill="#b040b0"/><path d="M407.5 138.2L408.1 139.6L409.5 139.7L408.4 140.7L408.8 142.1L407.5 141.3L406.2 142.1L406.6 140.7L405.5 139.7L406.9 139.6Z" fill="#b040b0"/><path d="M409.7 140.4L410.3 141.8L411.7 141.9L410.6 142.9L411.0 144.3L409.7 143.5L408.4 144.3L408.8 142.9L407.7 141.9L409.1 141.8Z" fill="#b040b0"/><path d="M427.7 141.7L428.3 143.0L429.7 143.1L428.6 144.1L429.0 145.5L427.7 144.8L426.4 145.5L426.8 144.1L425.7 143.1L427.1 143.0Z" fill="#b040b0"/><path d="M431.6 140.4L432.2 141.8L433.6 141.9L432.5 142.9L432.9 144.3L431.6 143.5L430.3 144.3L430.7 142.9L429.6 141.9L431.0 141.8Z" fill="#b040b0"/><path d="M381.1 129.7L381.7 131.0L383.1 131.1L382.0 132.1L382.4 133.5L381.1 132.8L379.8 133.5L380.2 132.1L379.1 131.1L380.5 131.0Z" fill="#b040b0"/><path d="M380.0 133.5L380.6 134.9L382.0 135.0L380.9 136.0L381.3 137.4L380.0 136.6L378.7 137.4L379.1 136.0L378.0 135.0L379.4 134.9Z" fill="#b040b0"/><path d="M349.5 144.2L350.1 145.6L351.5 145.7L350.4 146.7L350.8 148.1L349.5 147.3L348.2 148.1L348.6 146.7L347.5 145.7L348.9 145.6Z" fill="#b040b0"/><path d="M381.7 150.3L382.3 151.7L383.7 151.8L382.6 152.8L383.0 154.2L381.7 153.4L380.4 154.2L380.8 152.8L379.7 151.8L381.1 151.7Z" fill="#b040b0"/><path d="M369.0 155.4L369.6 156.8L371.0 156.9L369.9 157.9L370.3 159.3L369.0 158.5L367.7 159.3L368.1 157.9L367.0 156.9L368.4 156.8Z" fill="#b040b0"/><path d="M383.4 155.9L384.0 157.3L385.4 157.4L384.3 158.4L384.7 159.8L383.4 159.0L382.1 159.8L382.5 158.4L381.4 157.4L382.8 157.3Z" fill="#b040b0"/><path d="M472.0 53.4L472.6 54.7L474.0 54.8L472.9 55.8L473.3 57.2L472.0 56.5L470.7 57.2L471.1 55.8L470.0 54.8L471.4 54.7Z" fill="#b040b0"/><path d="M454.6 60.9L455.2 62.2L456.6 62.3L455.5 63.3L455.9 64.7L454.6 64.0L453.3 64.7L453.7 63.3L452.6 62.3L454.0 62.2Z" fill="#b040b0"/><path d="M485.4 62.4L486.0 63.7L487.4 63.8L486.3 64.8L486.7 66.2L485.4 65.5L484.1 66.2L484.5 64.8L483.4 63.8L484.8 63.7Z" fill="#b040b0"/><path d="M482.3 66.4L482.9 67.8L484.3 67.9L483.2 68.9L483.6 70.3L482.3 69.5L481.0 70.3L481.4 68.9L480.3 67.9L481.7 67.8Z" fill="#b040b0"/><path d="M452.4 69.8L453.0 71.2L454.4 71.3L453.3 72.3L453.7 73.7L452.4 73.0L451.1 73.7L451.5 72.3L450.4 71.3L451.8 71.2Z" fill="#b040b0"/><path d="M452.4 72.0L453.0 73.4L454.4 73.5L453.3 74.5L453.7 75.9L452.4 75.2L451.1 75.9L451.5 74.5L450.4 73.5L451.8 73.4Z" fill="#b040b0"/><path d="M481.9 70.8L482.5 72.1L483.9 72.2L482.8 73.2L483.2 74.6L481.9 73.9L480.6 74.6L481.0 73.2L479.9 72.2L481.3 72.1Z" fill="#b040b0"/><path d="M464.0 80.4L464.6 81.8L466.0 81.9L464.9 82.9L465.3 84.3L464.0 83.5L462.7 84.3L463.1 82.9L462.0 81.9L463.4 81.8Z" fill="#b040b0"/><path d="M483.6 82.8L484.2 84.1L485.6 84.2L484.5 85.2L484.9 86.6L483.6 85.9L482.3 86.6L482.7 85.2L481.6 84.2L483.0 84.1Z" fill="#b040b0"/><path d="M472.0 85.1L472.6 86.5L474.0 86.6L472.9 87.6L473.3 89.0L472.0 88.2L470.7 89.0L471.1 87.6L470.0 86.6L471.4 86.5Z" fill="#b040b0"/><path d="M482.3 93.1L482.9 94.5L484.3 94.6L483.2 95.6L483.6 97.0L482.3 96.2L481.0 97.0L481.4 95.6L480.3 94.6L481.7 94.5Z" fill="#b040b0"/><path d="M453.7 95.4L454.3 96.8L455.7 96.9L454.6 97.9L455.0 99.3L453.7 98.5L452.4 99.3L452.8 97.9L451.7 96.9L453.1 96.8Z" fill="#b040b0"/><path d="M459.5 101.9L460.1 103.3L461.5 103.4L460.4 104.4L460.8 105.8L459.5 105.0L458.2 105.8L458.6 104.4L457.5 103.4L458.9 103.3Z" fill="#b040b0"/><path d="M397.6 75.8L398.2 77.1L399.6 77.2L398.5 78.2L398.9 79.6L397.6 78.9L396.3 79.6L396.7 78.2L395.6 77.2L397.0 77.1Z" fill="#b040b0"/><path d="M343.2 169.3L345.7 171.8L343.2 174.3L340.7 171.8Z" fill="#00782d"/><path d="M363.2 168.2L365.7 170.7L363.2 173.2L360.7 170.7Z" fill="#00782d"/><path d="M369.9 167.4L372.4 169.9L369.9 172.4L367.4 169.9Z" fill="#00782d"/><path d="M376.1 168.2L378.6 170.7L376.1 173.2L373.6 170.7Z" fill="#00782d"/><path d="M380.0 168.2L382.5 170.7L380.0 173.2L377.5 170.7Z" fill="#00782d"/><path d="M368.3 170.2L370.8 172.7L368.3 175.2L365.8 172.7Z" fill="#00782d"/><path d="M348.1 178.1L350.6 180.6L348.1 183.1L345.6 180.6Z" fill="#00782d"/><path d="M350.9 180.3L353.4 182.8L350.9 185.3L348.4 182.8Z" fill="#00782d"/><path d="M355.9 180.3L358.4 182.8L355.9 185.3L353.4 182.8Z" fill="#00782d"/><path d="M355.9 183.7L358.4 186.2L355.9 188.7L353.4 186.2Z" fill="#00782d"/><path d="M365.4 178.6L367.9 181.1L365.4 183.6L362.9 181.1Z" fill="#00782d"/><path d="M371.1 177.5L373.6 180.0L371.1 182.5L368.6 180.0Z" fill="#00782d"/><path d="M370.5 180.3L373.0 182.8L370.5 185.3L368.0 182.8Z" fill="#00782d"/><path d="M367.1 184.2L369.6 186.7L367.1 189.2L364.6 186.7Z" fill="#00782d"/><path d="M340.8 187.6L343.3 190.1L340.8 192.6L338.3 190.1Z" fill="#00782d"/><path d="M347.5 186.5L350.0 189.0L347.5 191.5L345.0 189.0Z" fill="#00782d"/><path d="M346.9 190.4L349.4 192.9L346.9 195.4L344.4 192.9Z" fill="#00782d"/><path d="M352.6 192.9L355.1 195.4L352.6 197.9L350.1 195.4Z" fill="#00782d"/><path d="M352.0 193.8L354.5 196.3L352.0 198.8L349.5 196.3Z" fill="#00782d"/><path d="M364.9 189.9L367.4 192.4L364.9 194.9L362.4 192.4Z" fill="#00782d"/><path d="M378.3 193.6L380.8 196.1L378.3 198.6L375.8 196.1Z" fill="#00782d"/><path d="M343.6 205.0L346.1 207.5L343.6 210.0L341.1 207.5Z" fill="#00782d"/><path d="M343.0 207.2L345.5 209.7L343.0 212.2L340.5 209.7Z" fill="#00782d"/><path d="M370.5 210.4L373.0 212.9L370.5 215.4L368.0 212.9Z" fill="#00782d"/><path d="M372.2 174.2L374.7 176.7L372.2 179.2L369.7 176.7Z" fill="#00782d"/><path d="M422.6 144.6L425.1 147.1L422.6 149.6L420.1 147.1Z" fill="#00782d"/><path d="M405.3 145.2L407.8 147.7L405.3 150.2L402.8 147.7Z" fill="#00782d"/><path d="M413.1 153.6L415.6 156.1L413.1 158.6L410.6 156.1Z" fill="#00782d"/><path d="M397.4 156.4L399.9 158.9L397.4 161.4L394.9 158.9Z" fill="#00782d"/><path d="M427.7 159.2L430.2 161.7L427.7 164.2L425.2 161.7Z" fill="#00782d"/><path d="M432.0 159.4L434.5 161.9L432.0 164.4L429.5 161.9Z" fill="#00782d"/><path d="M402.5 168.7L405.0 171.2L402.5 173.7L400.0 171.2Z" fill="#00782d"/><path d="M413.9 168.4L416.4 170.9L413.9 173.4L411.4 170.9Z" fill="#00782d"/><path d="M394.6 173.6L397.1 176.1L394.6 178.6L392.1 176.1Z" fill="#00782d"/><path d="M402.7 174.0L405.2 176.5L402.7 179.0L400.2 176.5Z" fill="#00782d"/><path d="M424.3 191.9L426.8 194.4L424.3 196.9L421.8 194.4Z" fill="#00782d"/><path d="M431.4 195.3L433.9 197.8L431.4 200.3L428.9 197.8Z" fill="#00782d"/><path d="M393.7 124.1L396.2 126.6L393.7 129.1L391.2 126.6Z" fill="#00782d"/><path d="M407.5 142.4L410.0 144.9L407.5 147.4L405.0 144.9Z" fill="#00782d"/><path d="M344.4 124.2L346.9 126.7L344.4 129.2L341.9 126.7Z" fill="#00782d"/><path d="M380.8 145.9L383.3 148.4L380.8 150.9L378.3 148.4Z" fill="#00782d"/><path d="M350.3 152.5L352.8 155.0L350.3 157.5L347.8 155.0Z" fill="#00782d"/><path d="M363.0 158.2L365.5 160.7L363.0 163.2L360.5 160.7Z" fill="#00782d"/><path d="M368.5 157.9L371.0 160.4L368.5 162.9L366.0 160.4Z" fill="#00782d"/><circle cx="352.8" cy="169.0" r="1.85" fill="#4fc3dc"/><circle cx="384.0" cy="178.9" r="1.85" fill="#4fc3dc"/><circle cx="371.1" cy="175.0" r="1.85" fill="#4fc3dc"/><circle cx="373.9" cy="176.7" r="1.85" fill="#4fc3dc"/><circle cx="377.2" cy="173.3" r="1.85" fill="#4fc3dc"/><circle cx="380.0" cy="172.2" r="1.85" fill="#4fc3dc"/><circle cx="360.4" cy="194.0" r="1.85" fill="#4fc3dc"/><circle cx="361.0" cy="195.7" r="1.85" fill="#4fc3dc"/><circle cx="353.1" cy="202.1" r="1.85" fill="#4fc3dc"/><circle cx="393.5" cy="152.2" r="1.85" fill="#4fc3dc"/><circle cx="397.4" cy="153.3" r="1.85" fill="#4fc3dc"/><circle cx="390.7" cy="156.1" r="1.85" fill="#4fc3dc"/><circle cx="391.0" cy="196.5" r="1.85" fill="#4fc3dc"/><circle cx="403.0" cy="146.6" r="1.85" fill="#4fc3dc"/><circle cx="459.0" cy="120.2" r="1.85" fill="#4fc3dc"/><circle cx="488.6" cy="124.4" r="1.85" fill="#4fc3dc"/><circle cx="402.5" cy="145.4" r="1.85" fill="#4fc3dc"/><circle cx="375.0" cy="135.2" r="1.85" fill="#4fc3dc"/><circle cx="382.8" cy="161.0" r="1.85" fill="#4fc3dc"/><circle cx="479.5" cy="89.9" r="1.85" fill="#4fc3dc"/><circle cx="470.1" cy="98.1" r="1.85" fill="#4fc3dc"/><path d="M329.0 23.5V226.5H522.5" fill="none" stroke="#222" stroke-width="0.9"/><path d="M329.00 226.5v3.9M329.0 226.50h-3.9M342.82 226.5v2.2M329.0 212.00h-2.2M356.64 226.5v3.9M329.0 197.50h-3.9M370.46 226.5v2.2M329.0 183.00h-2.2M384.29 226.5v3.9M329.0 168.50h-3.9M398.11 226.5v2.2M329.0 154.00h-2.2M411.93 226.5v3.9M329.0 139.50h-3.9M425.75 226.5v2.2M329.0 125.00h-2.2M439.57 226.5v3.9M329.0 110.50h-3.9M453.39 226.5v2.2M329.0 96.00h-2.2M467.21 226.5v3.9M329.0 81.50h-3.9M481.04 226.5v2.2M329.0 67.00h-2.2M494.86 226.5v3.9M329.0 52.50h-3.9M508.68 226.5v2.2M329.0 38.00h-2.2M522.50 226.5v3.9M329.0 23.50h-3.9" stroke="#222" stroke-width="0.8" fill="none"/><text x="329.0" y="241.1" text-anchor="middle" class="t">0.0</text><text x="322.5" y="230.1" text-anchor="end" class="t">0.0</text><text x="356.6" y="241.1" text-anchor="middle" class="t">0.5</text><text x="322.5" y="201.1" text-anchor="end" class="t">0.5</text><text x="384.3" y="241.1" text-anchor="middle" class="t">1.0</text><text x="322.5" y="172.1" text-anchor="end" class="t">1.0</text><text x="411.9" y="241.1" text-anchor="middle" class="t">1.5</text><text x="322.5" y="143.1" text-anchor="end" class="t">1.5</text><text x="439.6" y="241.1" text-anchor="middle" class="t">2.0</text><text x="322.5" y="114.1" text-anchor="end" class="t">2.0</text><text x="467.2" y="241.1" text-anchor="middle" class="t">2.5</text><text x="322.5" y="85.1" text-anchor="end" class="t">2.5</text><text x="494.9" y="241.1" text-anchor="middle" class="t">3.0</text><text x="322.5" y="56.1" text-anchor="end" class="t">3.0</text><text x="522.5" y="241.1" text-anchor="middle" class="t">3.5</text><text x="322.5" y="27.1" text-anchor="end" class="t">3.5</text><text x="432.8" y="257.1" text-anchor="middle" class="l">Observed monthly dew (mm)</text><text transform="translate(300.8 124.5) rotate(-90)" text-anchor="middle" class="l lv">Simulated monthly dew of m81 (mm)</text><text x="509.0" y="215.3" text-anchor="middle" class="l">(f)</text></g>
<g><line x1="45.5" y1="509.5" x2="239.0" y2="306.5" stroke="#686868" stroke-width="1" stroke-dasharray="3.1 2.8"/><rect x="78.1" y="432.9" width="3.2" height="3.2" fill="#000000"/><rect x="79.2" y="435.7" width="3.2" height="3.2" fill="#000000"/><rect x="95.5" y="440.2" width="3.2" height="3.2" fill="#000000"/><rect x="95.5" y="429.0" width="3.2" height="3.2" fill="#000000"/><rect x="79.8" y="429.0" width="3.2" height="3.2" fill="#000000"/><rect x="106.2" y="454.2" width="3.2" height="3.2" fill="#000000"/><rect x="93.3" y="451.4" width="3.2" height="3.2" fill="#000000"/><rect x="117.9" y="429.5" width="3.2" height="3.2" fill="#000000"/><rect x="109.0" y="441.9" width="3.2" height="3.2" fill="#000000"/><rect x="151.6" y="442.8" width="3.2" height="3.2" fill="#000000"/><rect x="118.5" y="439.1" width="3.2" height="3.2" fill="#000000"/><rect x="164.1" y="409.7" width="3.2" height="3.2" fill="#000000"/><rect x="169.1" y="412.7" width="3.2" height="3.2" fill="#000000"/><rect x="189.9" y="412.4" width="3.2" height="3.2" fill="#000000"/><rect x="164.1" y="420.1" width="3.2" height="3.2" fill="#000000"/><rect x="182.8" y="440.0" width="3.2" height="3.2" fill="#000000"/><rect x="162.8" y="382.4" width="3.2" height="3.2" fill="#000000"/><rect x="130.3" y="394.8" width="3.2" height="3.2" fill="#000000"/><rect x="153.3" y="395.1" width="3.2" height="3.2" fill="#000000"/><rect x="107.7" y="398.7" width="3.2" height="3.2" fill="#000000"/><rect x="152.7" y="398.7" width="3.2" height="3.2" fill="#000000"/><rect x="149.4" y="399.2" width="3.2" height="3.2" fill="#000000"/><rect x="146.0" y="401.5" width="3.2" height="3.2" fill="#000000"/><rect x="111.8" y="404.5" width="3.2" height="3.2" fill="#000000"/><rect x="109.0" y="408.2" width="3.2" height="3.2" fill="#000000"/><rect x="109.6" y="410.5" width="3.2" height="3.2" fill="#000000"/><rect x="150.7" y="407.1" width="3.2" height="3.2" fill="#000000"/><rect x="130.3" y="411.6" width="3.2" height="3.2" fill="#000000"/><rect x="134.2" y="411.6" width="3.2" height="3.2" fill="#000000"/><rect x="130.3" y="413.8" width="3.2" height="3.2" fill="#000000"/><rect x="141.0" y="411.6" width="3.2" height="3.2" fill="#000000"/><rect x="139.8" y="416.6" width="3.2" height="3.2" fill="#000000"/><rect x="111.0" y="417.5" width="3.2" height="3.2" fill="#000000"/><rect x="128.3" y="420.0" width="3.2" height="3.2" fill="#000000"/><rect x="106.8" y="423.6" width="3.2" height="3.2" fill="#000000"/><rect x="150.3" y="424.5" width="3.2" height="3.2" fill="#000000"/><rect x="130.7" y="426.9" width="3.2" height="3.2" fill="#000000"/><rect x="94.9" y="400.3" width="3.2" height="3.2" fill="#000000"/><rect x="98.3" y="400.1" width="3.2" height="3.2" fill="#000000"/><rect x="92.7" y="409.1" width="3.2" height="3.2" fill="#000000"/><rect x="192.6" y="395.3" width="3.2" height="3.2" fill="#000000"/><rect x="185.5" y="402.5" width="3.2" height="3.2" fill="#000000"/><circle cx="83.4" cy="463.1" r="1.85" fill="#e8141c"/><circle cx="92.1" cy="461.4" r="1.85" fill="#e8141c"/><circle cx="109.4" cy="460.3" r="1.85" fill="#e8141c"/><circle cx="88.1" cy="466.4" r="1.85" fill="#e8141c"/><circle cx="124.0" cy="431.7" r="1.85" fill="#e8141c"/><circle cx="165.5" cy="430.6" r="1.85" fill="#e8141c"/><circle cx="168.9" cy="432.0" r="1.85" fill="#e8141c"/><circle cx="141.4" cy="441.4" r="1.85" fill="#e8141c"/><circle cx="154.5" cy="441.2" r="1.85" fill="#e8141c"/><circle cx="154.9" cy="444.0" r="1.85" fill="#e8141c"/><circle cx="116.2" cy="441.2" r="1.85" fill="#e8141c"/><circle cx="128.2" cy="453.0" r="1.85" fill="#e8141c"/><circle cx="111.1" cy="459.7" r="1.85" fill="#e8141c"/><circle cx="112.8" cy="461.2" r="1.85" fill="#e8141c"/><circle cx="133.3" cy="470.0" r="1.85" fill="#e8141c"/><circle cx="180.4" cy="406.2" r="1.85" fill="#e8141c"/><circle cx="187.1" cy="409.9" r="1.85" fill="#e8141c"/><circle cx="177.7" cy="418.8" r="1.85" fill="#e8141c"/><circle cx="174.3" cy="431.2" r="1.85" fill="#e8141c"/><circle cx="186.4" cy="436.7" r="1.85" fill="#e8141c"/><circle cx="222.9" cy="440.0" r="1.85" fill="#e8141c"/><circle cx="132.3" cy="411.5" r="1.85" fill="#e8141c"/><circle cx="155.7" cy="417.1" r="1.85" fill="#e8141c"/><circle cx="91.8" cy="400.5" r="1.85" fill="#e8141c"/><path d="M100.7 435.3L103.0 439.3L98.4 439.3Z" fill="#1a3fb0"/><path d="M89.3 441.2L91.6 445.2L87.0 445.2Z" fill="#1a3fb0"/><path d="M74.9 455.2L77.2 459.2L72.6 459.2Z" fill="#1a3fb0"/><path d="M65.7 461.3L68.0 465.3L63.4 465.3Z" fill="#1a3fb0"/><path d="M115.0 428.8L117.3 432.8L112.7 432.8Z" fill="#1a3fb0"/><path d="M111.1 435.0L113.4 439.0L108.8 439.0Z" fill="#1a3fb0"/><path d="M138.9 437.6L141.2 441.6L136.6 441.6Z" fill="#1a3fb0"/><path d="M133.8 441.9L136.1 445.9L131.5 445.9Z" fill="#1a3fb0"/><path d="M124.2 455.5L126.5 459.5L121.9 459.5Z" fill="#1a3fb0"/><path d="M131.9 453.7L134.2 457.7L129.6 457.7Z" fill="#1a3fb0"/><path d="M151.5 462.8L153.8 466.8L149.2 466.8Z" fill="#1a3fb0"/><path d="M111.1 438.4L113.4 442.4L108.8 442.4Z" fill="#1a3fb0"/><path d="M109.3 398.5L111.6 402.5L107.0 402.5Z" fill="#1a3fb0"/><path d="M112.9 400.4L115.2 404.4L110.6 404.4Z" fill="#1a3fb0"/><path d="M155.1 410.9L157.4 414.9L152.8 414.9Z" fill="#1a3fb0"/><path d="M126.5 423.2L128.8 427.2L124.2 427.2Z" fill="#1a3fb0"/><path d="M143.1 426.2L145.4 430.2L140.8 430.2Z" fill="#1a3fb0"/><path d="M94.9 418.9L97.2 422.9L92.6 422.9Z" fill="#1a3fb0"/><path d="M175.9 390.8L178.2 394.8L173.6 394.8Z" fill="#1a3fb0"/><path d="M76.0 429.9L76.6 431.2L78.0 431.3L76.9 432.3L77.3 433.7L76.0 432.9L74.7 433.7L75.1 432.3L74.0 431.3L75.4 431.2Z" fill="#b040b0"/><path d="M84.2 435.8L84.8 437.1L86.2 437.2L85.1 438.2L85.5 439.6L84.2 438.8L82.9 439.6L83.3 438.2L82.2 437.2L83.6 437.1Z" fill="#b040b0"/><path d="M99.3 436.2L99.9 437.6L101.3 437.7L100.2 438.7L100.6 440.1L99.3 439.3L98.0 440.1L98.4 438.7L97.3 437.7L98.7 437.6Z" fill="#b040b0"/><path d="M108.0 432.4L108.6 433.7L110.0 433.8L108.9 434.8L109.3 436.2L108.0 435.4L106.7 436.2L107.1 434.8L106.0 433.8L107.4 433.7Z" fill="#b040b0"/><path d="M60.3 456.5L60.9 457.8L62.3 457.9L61.2 458.9L61.6 460.3L60.3 459.6L59.0 460.3L59.4 458.9L58.3 457.9L59.7 457.8Z" fill="#b040b0"/><path d="M65.7 460.4L66.3 461.7L67.7 461.8L66.6 462.8L67.0 464.2L65.7 463.4L64.4 464.2L64.8 462.8L63.7 461.8L65.1 461.7Z" fill="#b040b0"/><path d="M99.9 454.8L100.5 456.1L101.9 456.2L100.8 457.2L101.2 458.6L99.9 457.8L98.6 458.6L99.0 457.2L97.9 456.2L99.3 456.1Z" fill="#b040b0"/><path d="M93.2 454.8L93.8 456.1L95.2 456.2L94.1 457.2L94.5 458.6L93.2 457.8L91.9 458.6L92.3 457.2L91.2 456.2L92.6 456.1Z" fill="#b040b0"/><path d="M86.4 458.7L87.0 460.0L88.4 460.1L87.3 461.1L87.7 462.5L86.4 461.8L85.1 462.5L85.5 461.1L84.4 460.1L85.8 460.0Z" fill="#b040b0"/><path d="M90.9 462.1L91.5 463.4L92.9 463.5L91.8 464.5L92.2 465.9L90.9 465.1L89.6 465.9L90.0 464.5L88.9 463.5L90.3 463.4Z" fill="#b040b0"/><path d="M76.0 467.7L76.6 469.0L78.0 469.1L76.9 470.1L77.3 471.5L76.0 470.8L74.7 471.5L75.1 470.1L74.0 469.1L75.4 469.0Z" fill="#b040b0"/><path d="M82.0 470.0L82.6 471.3L84.0 471.4L82.9 472.4L83.3 473.8L82.0 473.1L80.7 473.8L81.1 472.4L80.0 471.4L81.4 471.3Z" fill="#b040b0"/><path d="M92.1 472.8L92.7 474.1L94.1 474.2L93.0 475.2L93.4 476.6L92.1 475.8L90.8 476.6L91.2 475.2L90.1 474.2L91.5 474.1Z" fill="#b040b0"/><path d="M90.9 476.7L91.5 478.0L92.9 478.1L91.8 479.1L92.2 480.5L90.9 479.8L89.6 480.5L90.0 479.1L88.9 478.1L90.3 478.0Z" fill="#b040b0"/><path d="M65.7 478.1L66.3 479.4L67.7 479.5L66.6 480.5L67.0 481.9L65.7 481.1L64.4 481.9L64.8 480.5L63.7 479.5L65.1 479.4Z" fill="#b040b0"/><path d="M73.0 476.7L73.6 478.0L75.0 478.1L73.9 479.1L74.3 480.5L73.0 479.8L71.7 480.5L72.1 479.1L71.0 478.1L72.4 478.0Z" fill="#b040b0"/><path d="M76.4 477.2L77.0 478.5L78.4 478.6L77.3 479.6L77.7 481.0L76.4 480.2L75.1 481.0L75.5 479.6L74.4 478.6L75.8 478.5Z" fill="#b040b0"/><path d="M75.8 471.1L76.4 472.4L77.8 472.5L76.7 473.5L77.1 474.9L75.8 474.1L74.5 474.9L74.9 473.5L73.8 472.5L75.2 472.4Z" fill="#b040b0"/><path d="M82.5 459.2L83.1 460.6L84.5 460.7L83.4 461.7L83.8 463.1L82.5 462.3L81.2 463.1L81.6 461.7L80.5 460.7L81.9 460.6Z" fill="#b040b0"/><path d="M113.4 430.7L114.0 432.0L115.4 432.1L114.3 433.1L114.7 434.5L113.4 433.8L112.1 434.5L112.5 433.1L111.4 432.1L112.8 432.0Z" fill="#b040b0"/><path d="M137.8 428.5L138.4 429.8L139.8 429.9L138.7 430.9L139.1 432.3L137.8 431.6L136.5 432.3L136.9 430.9L135.8 429.9L137.2 429.8Z" fill="#b040b0"/><path d="M147.0 430.7L147.6 432.0L149.0 432.1L147.9 433.1L148.3 434.5L147.0 433.8L145.7 434.5L146.1 433.1L145.0 432.1L146.4 432.0Z" fill="#b040b0"/><path d="M136.4 435.8L137.0 437.1L138.4 437.2L137.3 438.2L137.7 439.6L136.4 438.8L135.1 439.6L135.5 438.2L134.4 437.2L135.8 437.1Z" fill="#b040b0"/><path d="M144.5 436.2L145.1 437.6L146.5 437.7L145.4 438.7L145.8 440.1L144.5 439.3L143.2 440.1L143.6 438.7L142.5 437.7L143.9 437.6Z" fill="#b040b0"/><path d="M151.3 438.0L151.9 439.3L153.3 439.4L152.2 440.4L152.6 441.8L151.3 441.1L150.0 441.8L150.4 440.4L149.3 439.4L150.7 439.3Z" fill="#b040b0"/><path d="M125.7 435.2L126.3 436.5L127.7 436.6L126.6 437.6L127.0 439.0L125.7 438.2L124.4 439.0L124.8 437.6L123.7 436.6L125.1 436.5Z" fill="#b040b0"/><path d="M137.5 440.2L138.1 441.5L139.5 441.6L138.4 442.6L138.8 444.0L137.5 443.2L136.2 444.0L136.6 442.6L135.5 441.6L136.9 441.5Z" fill="#b040b0"/><path d="M120.1 437.4L120.7 438.7L122.1 438.8L121.0 439.8L121.4 441.2L120.1 440.4L118.8 441.2L119.2 439.8L118.1 438.8L119.5 438.7Z" fill="#b040b0"/><path d="M137.8 450.6L138.4 451.9L139.8 452.0L138.7 453.0L139.1 454.4L137.8 453.6L136.5 454.4L136.9 453.0L135.8 452.0L137.2 451.9Z" fill="#b040b0"/><path d="M143.6 455.4L144.2 456.7L145.6 456.8L144.5 457.8L144.9 459.2L143.6 458.4L142.3 459.2L142.7 457.8L141.6 456.8L143.0 456.7Z" fill="#b040b0"/><path d="M148.5 457.6L149.1 458.9L150.5 459.0L149.4 460.0L149.8 461.4L148.5 460.6L147.2 461.4L147.6 460.0L146.5 459.0L147.9 458.9Z" fill="#b040b0"/><path d="M143.6 458.7L144.2 460.0L145.6 460.1L144.5 461.1L144.9 462.5L143.6 461.8L142.3 462.5L142.7 461.1L141.6 460.1L143.0 460.0Z" fill="#b040b0"/><path d="M127.0 457.2L127.6 458.6L129.0 458.7L127.9 459.7L128.3 461.1L127.0 460.3L125.7 461.1L126.1 459.7L125.0 458.7L126.4 458.6Z" fill="#b040b0"/><path d="M121.2 458.4L121.8 459.7L123.2 459.8L122.1 460.8L122.5 462.2L121.2 461.4L119.9 462.2L120.3 460.8L119.2 459.8L120.6 459.7Z" fill="#b040b0"/><path d="M113.1 463.6L113.7 464.9L115.1 465.0L114.0 466.0L114.4 467.4L113.1 466.6L111.8 467.4L112.2 466.0L111.1 465.0L112.5 464.9Z" fill="#b040b0"/><path d="M129.6 464.0L130.2 465.3L131.6 465.4L130.5 466.4L130.9 467.8L129.6 467.1L128.3 467.8L128.7 466.4L127.6 465.4L129.0 465.3Z" fill="#b040b0"/><path d="M145.9 464.2L146.5 465.6L147.9 465.7L146.8 466.7L147.2 468.1L145.9 467.3L144.6 468.1L145.0 466.7L143.9 465.7L145.3 465.6Z" fill="#b040b0"/><path d="M120.3 471.1L120.9 472.4L122.3 472.5L121.2 473.5L121.6 474.9L120.3 474.1L119.0 474.9L119.4 473.5L118.3 472.5L119.7 472.4Z" fill="#b040b0"/><path d="M125.7 473.2L126.3 474.6L127.7 474.7L126.6 475.7L127.0 477.1L125.7 476.3L124.4 477.1L124.8 475.7L123.7 474.7L125.1 474.6Z" fill="#b040b0"/><path d="M142.5 467.7L143.1 469.0L144.5 469.1L143.4 470.1L143.8 471.5L142.5 470.8L141.2 471.5L141.6 470.1L140.5 469.1L141.9 469.0Z" fill="#b040b0"/><path d="M168.9 456.8L169.5 458.1L170.9 458.2L169.8 459.2L170.2 460.6L168.9 459.8L167.6 460.6L168.0 459.2L166.9 458.2L168.3 458.1Z" fill="#b040b0"/><path d="M191.9 409.6L192.5 410.9L193.9 411.0L192.8 412.0L193.2 413.4L191.9 412.6L190.6 413.4L191.0 412.0L189.9 411.0L191.3 410.9Z" fill="#b040b0"/><path d="M198.9 412.2L199.5 413.6L200.9 413.7L199.8 414.7L200.2 416.1L198.9 415.3L197.6 416.1L198.0 414.7L196.9 413.7L198.3 413.6Z" fill="#b040b0"/><path d="M182.6 420.5L183.2 421.8L184.6 421.9L183.5 422.9L183.9 424.3L182.6 423.6L181.3 424.3L181.7 422.9L180.6 421.9L182.0 421.8Z" fill="#b040b0"/><path d="M196.0 422.2L196.6 423.6L198.0 423.7L196.9 424.7L197.3 426.1L196.0 425.3L194.7 426.1L195.1 424.7L194.0 423.7L195.4 423.6Z" fill="#b040b0"/><path d="M203.6 421.1L204.2 422.4L205.6 422.5L204.5 423.5L204.9 424.9L203.6 424.1L202.3 424.9L202.7 423.5L201.6 422.5L203.0 422.4Z" fill="#b040b0"/><path d="M171.7 436.5L172.3 437.8L173.7 437.9L172.6 438.9L173.0 440.3L171.7 439.6L170.4 440.3L170.8 438.9L169.7 437.9L171.1 437.8Z" fill="#b040b0"/><path d="M180.7 440.0L181.3 441.3L182.7 441.4L181.6 442.4L182.0 443.8L180.7 443.1L179.4 443.8L179.8 442.4L178.7 441.4L180.1 441.3Z" fill="#b040b0"/><path d="M188.5 449.7L189.1 451.0L190.5 451.1L189.4 452.1L189.8 453.5L188.5 452.8L187.2 453.5L187.6 452.1L186.5 451.1L187.9 451.0Z" fill="#b040b0"/><path d="M194.5 454.0L195.1 455.3L196.5 455.4L195.4 456.4L195.8 457.8L194.5 457.1L193.2 457.8L193.6 456.4L192.5 455.4L193.9 455.3Z" fill="#b040b0"/><path d="M236.3 476.9L236.9 478.2L238.3 478.3L237.2 479.3L237.6 480.7L236.3 479.9L235.0 480.7L235.4 479.3L234.3 478.3L235.7 478.2Z" fill="#b040b0"/><path d="M149.6 378.2L150.2 379.5L151.6 379.6L150.5 380.6L150.9 382.0L149.6 381.2L148.3 382.0L148.7 380.6L147.6 379.6L149.0 379.5Z" fill="#b040b0"/><path d="M156.0 381.1L156.6 382.4L158.0 382.5L156.9 383.5L157.3 384.9L156.0 384.1L154.7 384.9L155.1 383.5L154.0 382.5L155.4 382.4Z" fill="#b040b0"/><path d="M163.9 393.7L164.5 395.0L165.9 395.1L164.8 396.1L165.2 397.5L163.9 396.8L162.6 397.5L163.0 396.1L161.9 395.1L163.3 395.0Z" fill="#b040b0"/><path d="M130.6 400.6L131.2 401.9L132.6 402.0L131.5 403.0L131.9 404.4L130.6 403.6L129.3 404.4L129.7 403.0L128.6 402.0L130.0 401.9Z" fill="#b040b0"/><path d="M150.4 399.5L151.0 400.8L152.4 400.9L151.3 401.9L151.7 403.3L150.4 402.6L149.1 403.3L149.5 401.9L148.4 400.9L149.8 400.8Z" fill="#b040b0"/><path d="M114.5 406.6L115.1 407.9L116.5 408.0L115.4 409.0L115.8 410.4L114.5 409.6L113.2 410.4L113.6 409.0L112.5 408.0L113.9 407.9Z" fill="#b040b0"/><path d="M142.6 407.2L143.2 408.5L144.6 408.6L143.5 409.6L143.9 411.0L142.6 410.2L141.3 411.0L141.7 409.6L140.6 408.6L142.0 408.5Z" fill="#b040b0"/><path d="M137.0 408.8L137.6 410.1L139.0 410.2L137.9 411.2L138.3 412.6L137.0 411.8L135.7 412.6L136.1 411.2L135.0 410.2L136.4 410.1Z" fill="#b040b0"/><path d="M114.9 414.4L115.5 415.7L116.9 415.8L115.8 416.8L116.2 418.2L114.9 417.4L113.6 418.2L114.0 416.8L112.9 415.8L114.3 415.7Z" fill="#b040b0"/><path d="M151.5 416.1L152.1 417.4L153.5 417.5L152.4 418.5L152.8 419.9L151.5 419.1L150.2 419.9L150.6 418.5L149.5 417.5L150.9 417.4Z" fill="#b040b0"/><path d="M120.1 417.2L120.7 418.5L122.1 418.6L121.0 419.6L121.4 421.0L120.1 420.2L118.8 421.0L119.2 419.6L118.1 418.6L119.5 418.5Z" fill="#b040b0"/><path d="M124.1 420.6L124.7 421.9L126.1 422.0L125.0 423.0L125.4 424.4L124.1 423.6L122.8 424.4L123.2 423.0L122.1 422.0L123.5 421.9Z" fill="#b040b0"/><path d="M112.0 422.9L112.6 424.2L114.0 424.3L112.9 425.3L113.3 426.7L112.0 425.9L110.7 426.7L111.1 425.3L110.0 424.3L111.4 424.2Z" fill="#b040b0"/><path d="M114.5 424.0L115.1 425.3L116.5 425.4L115.4 426.4L115.8 427.8L114.5 427.1L113.2 427.8L113.6 426.4L112.5 425.4L113.9 425.3Z" fill="#b040b0"/><path d="M125.7 425.1L126.3 426.4L127.7 426.5L126.6 427.5L127.0 428.9L125.7 428.1L124.4 428.9L124.8 427.5L123.7 426.5L125.1 426.4Z" fill="#b040b0"/><path d="M150.1 423.4L150.7 424.7L152.1 424.8L151.0 425.8L151.4 427.2L150.1 426.4L148.8 427.2L149.2 425.8L148.1 424.8L149.5 424.7Z" fill="#b040b0"/><path d="M98.2 398.5L98.8 399.8L100.2 399.9L99.1 400.9L99.5 402.3L98.2 401.6L96.9 402.3L97.3 400.9L96.2 399.9L97.6 399.8Z" fill="#b040b0"/><path d="M97.7 406.5L98.3 407.8L99.7 407.9L98.6 408.9L99.0 410.3L97.7 409.6L96.4 410.3L96.8 408.9L95.7 407.9L97.1 407.8Z" fill="#b040b0"/><path d="M85.1 415.5L85.7 416.8L87.1 416.9L86.0 417.9L86.4 419.3L85.1 418.6L83.8 419.3L84.2 417.9L83.1 416.9L84.5 416.8Z" fill="#b040b0"/><path d="M98.0 421.1L98.6 422.4L100.0 422.5L98.9 423.5L99.3 424.9L98.0 424.1L96.7 424.9L97.1 423.5L96.0 422.5L97.4 422.4Z" fill="#b040b0"/><path d="M92.1 424.2L92.7 425.6L94.1 425.7L93.0 426.7L93.4 428.1L92.1 427.3L90.8 428.1L91.2 426.7L90.1 425.7L91.5 425.6Z" fill="#b040b0"/><path d="M97.1 423.9L97.7 425.2L99.1 425.3L98.0 426.3L98.4 427.7L97.1 426.9L95.8 427.7L96.2 426.3L95.1 425.3L96.5 425.2Z" fill="#b040b0"/><path d="M98.8 424.7L99.4 426.0L100.8 426.1L99.7 427.1L100.1 428.5L98.8 427.8L97.5 428.5L97.9 427.1L96.8 426.1L98.2 426.0Z" fill="#b040b0"/><path d="M188.6 359.0L189.2 360.3L190.6 360.4L189.5 361.4L189.9 362.8L188.6 362.1L187.3 362.8L187.7 361.4L186.6 360.4L188.0 360.3Z" fill="#b040b0"/><path d="M202.1 363.4L202.7 364.7L204.1 364.8L203.0 365.8L203.4 367.2L202.1 366.4L200.8 367.2L201.2 365.8L200.1 364.8L201.5 364.7Z" fill="#b040b0"/><path d="M171.1 366.4L171.7 367.7L173.1 367.8L172.0 368.8L172.4 370.2L171.1 369.4L169.8 370.2L170.2 368.8L169.1 367.8L170.5 367.7Z" fill="#b040b0"/><path d="M180.7 365.6L181.3 366.9L182.7 367.0L181.6 368.0L182.0 369.4L180.7 368.6L179.4 369.4L179.8 368.0L178.7 367.0L180.1 366.9Z" fill="#b040b0"/><path d="M198.7 368.0L199.3 369.3L200.7 369.4L199.6 370.4L200.0 371.8L198.7 371.1L197.4 371.8L197.8 370.4L196.7 369.4L198.1 369.3Z" fill="#b040b0"/><path d="M169.5 374.8L170.1 376.1L171.5 376.2L170.4 377.2L170.8 378.6L169.5 377.8L168.2 378.6L168.6 377.2L167.5 376.2L168.9 376.1Z" fill="#b040b0"/><path d="M190.1 376.1L190.7 377.4L192.1 377.5L191.0 378.5L191.4 379.9L190.1 379.1L188.8 379.9L189.2 378.5L188.1 377.5L189.5 377.4Z" fill="#b040b0"/><path d="M171.1 384.2L171.7 385.6L173.1 385.7L172.0 386.7L172.4 388.1L171.1 387.3L169.8 388.1L170.2 386.7L169.1 385.7L170.5 385.6Z" fill="#b040b0"/><path d="M198.4 383.6L199.0 384.9L200.4 385.0L199.3 386.0L199.7 387.4L198.4 386.6L197.1 387.4L197.5 386.0L196.4 385.0L197.8 384.9Z" fill="#b040b0"/><path d="M199.9 398.2L200.5 399.5L201.9 399.6L200.8 400.6L201.2 402.0L199.9 401.2L198.6 402.0L199.0 400.6L197.9 399.6L199.3 399.5Z" fill="#b040b0"/><path d="M203.1 398.5L203.7 399.8L205.1 399.9L204.0 400.9L204.4 402.3L203.1 401.6L201.8 402.3L202.2 400.9L201.1 399.9L202.5 399.8Z" fill="#b040b0"/><path d="M188.2 397.9L188.8 399.2L190.2 399.3L189.1 400.3L189.5 401.7L188.2 400.9L186.9 401.7L187.3 400.3L186.2 399.3L187.6 399.2Z" fill="#b040b0"/><path d="M168.9 398.7L169.5 400.0L170.9 400.1L169.8 401.1L170.2 402.5L168.9 401.8L167.6 402.5L168.0 401.1L166.9 400.1L168.3 400.0Z" fill="#b040b0"/><path d="M175.9 401.7L176.5 403.0L177.9 403.1L176.8 404.1L177.2 405.5L175.9 404.8L174.6 405.5L175.0 404.1L173.9 403.1L175.3 403.0Z" fill="#b040b0"/><path d="M185.7 401.7L186.3 403.0L187.7 403.1L186.6 404.1L187.0 405.5L185.7 404.8L184.4 405.5L184.8 404.1L183.7 403.1L185.1 403.0Z" fill="#b040b0"/><path d="M59.9 436.2L62.4 438.7L59.9 441.2L57.4 438.7Z" fill="#00782d"/><path d="M67.0 441.5L69.5 444.0L67.0 446.5L64.5 444.0Z" fill="#00782d"/><path d="M79.7 439.6L82.2 442.1L79.7 444.6L77.2 442.1Z" fill="#00782d"/><path d="M84.8 429.2L87.3 431.7L84.8 434.2L82.3 431.7Z" fill="#00782d"/><path d="M92.1 436.2L94.6 438.7L92.1 441.2L89.6 438.7Z" fill="#00782d"/><path d="M86.4 449.4L88.9 451.9L86.4 454.4L83.9 451.9Z" fill="#00782d"/><path d="M89.3 449.4L91.8 451.9L89.3 454.4L86.8 451.9Z" fill="#00782d"/><path d="M93.2 448.8L95.7 451.3L93.2 453.8L90.7 451.3Z" fill="#00782d"/><path d="M96.9 448.8L99.4 451.3L96.9 453.8L94.4 451.3Z" fill="#00782d"/><path d="M61.2 452.7L63.7 455.2L61.2 457.7L58.7 455.2Z" fill="#00782d"/><path d="M64.0 451.9L66.5 454.4L64.0 456.9L61.5 454.4Z" fill="#00782d"/><path d="M79.7 452.4L82.2 454.9L79.7 457.4L77.2 454.9Z" fill="#00782d"/><path d="M67.4 456.7L69.9 459.2L67.4 461.7L64.9 459.2Z" fill="#00782d"/><path d="M81.4 456.1L83.9 458.6L81.4 461.1L78.9 458.6Z" fill="#00782d"/><path d="M61.2 461.1L63.7 463.6L61.2 466.1L58.7 463.6Z" fill="#00782d"/><path d="M70.7 461.1L73.2 463.6L70.7 466.1L68.2 463.6Z" fill="#00782d"/><path d="M72.4 461.1L74.9 463.6L72.4 466.1L69.9 463.6Z" fill="#00782d"/><path d="M72.2 464.5L74.7 467.0L72.2 469.5L69.7 467.0Z" fill="#00782d"/><path d="M57.9 466.8L60.4 469.3L57.9 471.8L55.4 469.3Z" fill="#00782d"/><path d="M60.1 469.0L62.6 471.5L60.1 474.0L57.6 471.5Z" fill="#00782d"/><path d="M64.6 466.8L67.1 469.3L64.6 471.8L62.1 469.3Z" fill="#00782d"/><path d="M62.6 473.5L65.1 476.0L62.6 478.5L60.1 476.0Z" fill="#00782d"/><path d="M67.9 474.0L70.4 476.5L67.9 479.0L65.4 476.5Z" fill="#00782d"/><path d="M76.9 472.9L79.4 475.4L76.9 477.9L74.4 475.4Z" fill="#00782d"/><path d="M87.0 469.0L89.5 471.5L87.0 474.0L84.5 471.5Z" fill="#00782d"/><path d="M94.9 475.2L97.4 477.7L94.9 480.2L92.4 477.7Z" fill="#00782d"/><path d="M83.6 464.5L86.1 467.0L83.6 469.5L81.1 467.0Z" fill="#00782d"/><path d="M88.1 462.8L90.6 465.3L88.1 467.8L85.6 465.3Z" fill="#00782d"/><path d="M89.8 464.5L92.3 467.0L89.8 469.5L87.3 467.0Z" fill="#00782d"/><path d="M95.4 451.1L97.9 453.6L95.4 456.1L92.9 453.6Z" fill="#00782d"/><path d="M120.7 433.1L123.2 435.6L120.7 438.1L118.2 435.6Z" fill="#00782d"/><path d="M124.0 432.5L126.5 435.0L124.0 437.5L121.5 435.0Z" fill="#00782d"/><path d="M130.2 434.0L132.7 436.5L130.2 439.0L127.7 436.5Z" fill="#00782d"/><path d="M139.4 433.7L141.9 436.2L139.4 438.7L136.9 436.2Z" fill="#00782d"/><path d="M113.9 438.2L116.4 440.7L113.9 443.2L111.4 440.7Z" fill="#00782d"/><path d="M111.1 449.4L113.6 451.9L111.1 454.4L108.6 451.9Z" fill="#00782d"/><path d="M130.2 452.7L132.7 455.2L130.2 457.7L127.7 455.2Z" fill="#00782d"/><path d="M119.2 461.1L121.7 463.6L119.2 466.1L116.7 463.6Z" fill="#00782d"/><path d="M119.2 463.2L121.7 465.7L119.2 468.2L116.7 465.7Z" fill="#00782d"/><path d="M140.8 469.0L143.3 471.5L140.8 474.0L138.3 471.5Z" fill="#00782d"/><path d="M147.9 473.7L150.4 476.2L147.9 478.7L145.4 476.2Z" fill="#00782d"/><path d="M138.6 423.2L141.1 425.7L138.6 428.2L136.1 425.7Z" fill="#00782d"/><path d="M144.0 423.2L146.5 425.7L144.0 428.2L141.5 425.7Z" fill="#00782d"/><path d="M110.0 425.8L112.5 428.3L110.0 430.8L107.5 428.3Z" fill="#00782d"/><path d="M122.9 426.0L125.4 428.5L122.9 431.0L120.4 428.5Z" fill="#00782d"/><path d="M148.5 426.0L151.0 428.5L148.5 431.0L146.0 428.5Z" fill="#00782d"/><path d="M97.7 409.3L100.2 411.8L97.7 414.3L95.2 411.8Z" fill="#00782d"/><path d="M96.5 416.2L99.0 418.7L96.5 421.2L94.0 418.7Z" fill="#00782d"/><path d="M82.0 423.5L84.5 426.0L82.0 428.5L79.5 426.0Z" fill="#00782d"/><path d="M85.3 424.1L87.8 426.6L85.3 429.1L82.8 426.6Z" fill="#00782d"/><circle cx="76.0" cy="435.4" r="1.85" fill="#4fc3dc"/><circle cx="85.9" cy="442.1" r="1.85" fill="#4fc3dc"/><circle cx="94.0" cy="442.9" r="1.85" fill="#4fc3dc"/><circle cx="99.9" cy="452.4" r="1.85" fill="#4fc3dc"/><circle cx="107.2" cy="453.0" r="1.85" fill="#4fc3dc"/><circle cx="91.5" cy="459.2" r="1.85" fill="#4fc3dc"/><circle cx="88.7" cy="462.0" r="1.85" fill="#4fc3dc"/><circle cx="76.9" cy="464.2" r="1.85" fill="#4fc3dc"/><circle cx="69.6" cy="469.3" r="1.85" fill="#4fc3dc"/><circle cx="78.9" cy="472.6" r="1.85" fill="#4fc3dc"/><circle cx="69.6" cy="475.4" r="1.85" fill="#4fc3dc"/><circle cx="107.8" cy="466.4" r="1.85" fill="#4fc3dc"/><circle cx="113.9" cy="435.4" r="1.85" fill="#4fc3dc"/><circle cx="119.9" cy="442.6" r="1.85" fill="#4fc3dc"/><circle cx="186.7" cy="414.0" r="1.85" fill="#4fc3dc"/><circle cx="205.4" cy="428.5" r="1.85" fill="#4fc3dc"/><circle cx="175.5" cy="428.9" r="1.85" fill="#4fc3dc"/><circle cx="110.0" cy="415.4" r="1.85" fill="#4fc3dc"/><circle cx="95.8" cy="397.4" r="1.85" fill="#4fc3dc"/><circle cx="91.7" cy="422.3" r="1.85" fill="#4fc3dc"/><circle cx="196.1" cy="398.4" r="1.85" fill="#4fc3dc"/><path d="M45.5 306.5V509.5H239.0" fill="none" stroke="#222" stroke-width="0.9"/><path d="M45.50 509.5v3.9M45.5 509.50h-3.9M59.32 509.5v2.2M45.5 495.00h-2.2M73.14 509.5v3.9M45.5 480.50h-3.9M86.96 509.5v2.2M45.5 466.00h-2.2M100.79 509.5v3.9M45.5 451.50h-3.9M114.61 509.5v2.2M45.5 437.00h-2.2M128.43 509.5v3.9M45.5 422.50h-3.9M142.25 509.5v2.2M45.5 408.00h-2.2M156.07 509.5v3.9M45.5 393.50h-3.9M169.89 509.5v2.2M45.5 379.00h-2.2M183.71 509.5v3.9M45.5 364.50h-3.9M197.54 509.5v2.2M45.5 350.00h-2.2M211.36 509.5v3.9M45.5 335.50h-3.9M225.18 509.5v2.2M45.5 321.00h-2.2M239.00 509.5v3.9M45.5 306.50h-3.9" stroke="#222" stroke-width="0.8" fill="none"/><text x="45.5" y="524.1" text-anchor="middle" class="t">0.0</text><text x="39.0" y="513.1" text-anchor="end" class="t">0.0</text><text x="73.1" y="524.1" text-anchor="middle" class="t">0.5</text><text x="39.0" y="484.1" text-anchor="end" class="t">0.5</text><text x="100.8" y="524.1" text-anchor="middle" class="t">1.0</text><text x="39.0" y="455.1" text-anchor="end" class="t">1.0</text><text x="128.4" y="524.1" text-anchor="middle" class="t">1.5</text><text x="39.0" y="426.1" text-anchor="end" class="t">1.5</text><text x="156.1" y="524.1" text-anchor="middle" class="t">2.0</text><text x="39.0" y="397.1" text-anchor="end" class="t">2.0</text><text x="183.7" y="524.1" text-anchor="middle" class="t">2.5</text><text x="39.0" y="368.1" text-anchor="end" class="t">2.5</text><text x="211.4" y="524.1" text-anchor="middle" class="t">3.0</text><text x="39.0" y="339.1" text-anchor="end" class="t">3.0</text><text x="239.0" y="524.1" text-anchor="middle" class="t">3.5</text><text x="39.0" y="310.1" text-anchor="end" class="t">3.5</text><text x="149.2" y="540.1" text-anchor="middle" class="l">Observed monthly dew (mm)</text><text transform="translate(17.3 407.5) rotate(-90)" text-anchor="middle" class="l lv">Simulated monthly dew of m91 (mm)</text><text x="225.5" y="498.3" text-anchor="middle" class="l">(g)</text></g>
<rect x="58.7" y="7.2" width="3.2" height="3.2" fill="#000000"/>
<text x="76" y="12.8" class="lg">Alpine grassland</text>
<circle cx="60.3" cy="22.5" r="1.85" fill="#e8141c"/>
<text x="76" y="26.5" class="lg">Alpine tundra</text>
<path d="M60.3 33.9L62.6 37.9L58.0 37.9Z" fill="#1a3fb0"/>
<text x="76" y="40.2" class="lg">Barren land</text>
<path d="M60.3 47.7L60.9 49.1L62.3 49.2L61.2 50.1L61.6 51.6L60.3 50.8L59.0 51.6L59.4 50.1L58.3 49.2L59.7 49.1Z" fill="#b040b0"/>
<text x="76" y="53.8" class="lg">Desert</text>
<path d="M60.3 61.0L62.8 63.5L60.3 66.0L57.8 63.5Z" fill="#00782d"/>
<text x="76" y="67.5" class="lg">Maize</text>
<circle cx="60.3" cy="77.2" r="1.85" fill="#4fc3dc"/>
<text x="76" y="81.2" class="lg">P.euphratica</text>
</svg>
</body></html>
